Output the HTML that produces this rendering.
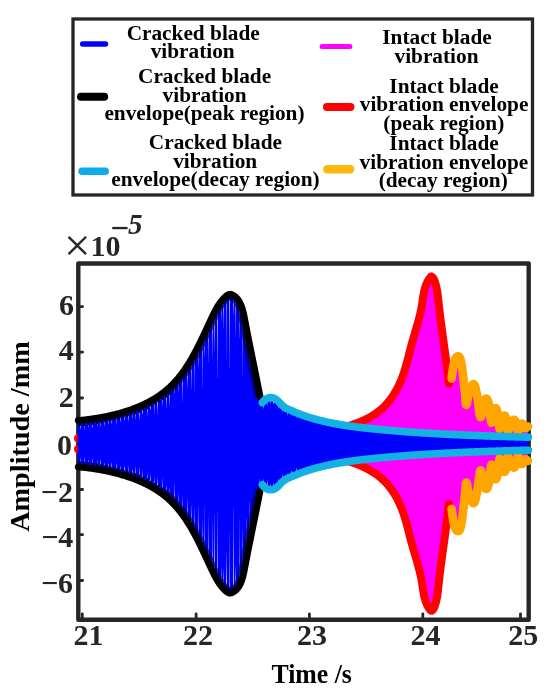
<!DOCTYPE html>
<html><head><meta charset="utf-8"><title>Blade vibration</title>
<style>html,body{margin:0;padding:0;background:#fff;}svg{display:block;}</style></head>
<body>
<svg width="550" height="696" viewBox="0 0 550 696">
<rect width="550" height="696" fill="#fff"/>
<g fill="#000" font-family="'Liberation Serif','Times New Roman',serif" font-weight="bold">
<rect x="73" y="19" width="459.5" height="176" fill="#fff" stroke="#262626" stroke-width="3.3"/>
<line x1="82.7" y1="44" x2="105.5" y2="44" stroke="#0000FF" stroke-width="5.5" stroke-linecap="round"/>
<line x1="81" y1="96.85" x2="104.2" y2="96.85" stroke="#000" stroke-width="8" stroke-linecap="round"/>
<line x1="82.1" y1="171.3" x2="105.2" y2="171.3" stroke="#0DAAEC" stroke-width="7.6" stroke-linecap="round"/>
<line x1="322.1" y1="46.5" x2="349.9" y2="46.5" stroke="#FF00FF" stroke-width="5" stroke-linecap="round"/>
<line x1="327" y1="107" x2="350.4" y2="107" stroke="#FF0000" stroke-width="8" stroke-linecap="round"/>
<line x1="327.2" y1="169.2" x2="350.2" y2="169.2" stroke="#FDB80F" stroke-width="8.4" stroke-linecap="round"/>
<rect x="78.3" y="263.5" width="450.4" height="356.3" fill="none" stroke="#262626" stroke-width="4.4" stroke-linejoin="round"/>
<line x1="82.3" y1="619" x2="82.3" y2="614" stroke="#262626" stroke-width="2.8" stroke-linecap="round"/>
<line x1="196.1" y1="619" x2="196.1" y2="614" stroke="#262626" stroke-width="2.8" stroke-linecap="round"/>
<line x1="309.4" y1="619" x2="309.4" y2="614" stroke="#262626" stroke-width="2.8" stroke-linecap="round"/>
<line x1="422.8" y1="619" x2="422.8" y2="614" stroke="#262626" stroke-width="2.8" stroke-linecap="round"/>
<line x1="520.5" y1="619" x2="520.5" y2="614" stroke="#262626" stroke-width="2.8" stroke-linecap="round"/>
<line x1="79" y1="306.6" x2="82.6" y2="306.6" stroke="#262626" stroke-width="2.8" stroke-linecap="round"/>
<line x1="79" y1="352.1" x2="82.6" y2="352.1" stroke="#262626" stroke-width="2.8" stroke-linecap="round"/>
<line x1="79" y1="398" x2="82.6" y2="398" stroke="#262626" stroke-width="2.8" stroke-linecap="round"/>
<line x1="79" y1="443.5" x2="82.6" y2="443.5" stroke="#262626" stroke-width="2.8" stroke-linecap="round"/>
<line x1="79" y1="489.5" x2="82.6" y2="489.5" stroke="#262626" stroke-width="2.8" stroke-linecap="round"/>
<line x1="79" y1="534.7" x2="82.6" y2="534.7" stroke="#262626" stroke-width="2.8" stroke-linecap="round"/>
<line x1="79" y1="580.5" x2="82.6" y2="580.5" stroke="#262626" stroke-width="2.8" stroke-linecap="round"/>
<path d="M78.00,438.50 L150.00,437.20 L250.00,433.50 L310.00,430.50 L335.00,428.50 L348.46,426.06 L349.18,425.84 L349.91,425.61 L350.64,425.37 L351.37,425.13 L352.10,424.89 L352.84,424.64 L353.57,424.39 L354.30,424.13 L355.03,423.87 L355.75,423.60 L356.48,423.33 L357.21,423.06 L357.94,422.78 L358.66,422.49 L359.38,422.20 L360.11,421.90 L360.83,421.60 L361.54,421.29 L362.26,420.98 L362.97,420.66 L363.69,420.34 L364.40,420.01 L365.10,419.67 L365.81,419.33 L366.51,418.98 L367.21,418.62 L367.91,418.26 L368.60,417.89 L369.29,417.52 L369.98,417.13 L370.66,416.75 L371.34,416.35 L372.01,415.95 L372.68,415.54 L373.35,415.12 L374.01,414.69 L374.67,414.26 L375.33,413.82 L375.97,413.37 L376.62,412.92 L377.26,412.46 L377.89,411.98 L378.52,411.50 L379.14,411.02 L379.76,410.52 L380.37,410.02 L380.98,409.50 L381.58,408.98 L382.17,408.45 L382.75,407.91 L383.33,407.37 L383.90,406.81 L384.46,406.25 L385.02,405.69 L385.57,405.11 L386.11,404.53 L386.64,403.95 L387.17,403.35 L387.69,402.75 L388.20,402.15 L388.70,401.54 L389.20,400.92 L389.69,400.30 L390.18,399.67 L390.65,399.03 L391.12,398.40 L391.59,397.75 L392.04,397.10 L392.49,396.45 L392.93,395.79 L393.37,395.13 L393.80,394.46 L394.22,393.79 L394.64,393.12 L395.05,392.44 L395.45,391.76 L395.85,391.07 L396.24,390.38 L396.62,389.69 L397.00,389.00 L397.37,388.30 L397.73,387.60 L398.09,386.90 L398.44,386.19 L398.79,385.48 L399.13,384.77 L399.46,384.06 L399.79,383.34 L400.11,382.62 L400.42,381.91 L400.73,381.19 L401.03,380.46 L401.33,379.74 L401.62,379.02 L401.90,378.29 L402.18,377.57 L402.46,376.84 L402.72,376.11 L402.98,375.39 L403.24,374.66 L403.49,373.93 L403.74,373.20 L403.98,372.48 L404.22,371.75 L404.46,371.02 L404.69,370.29 L404.91,369.56 L405.13,368.83 L405.35,368.10 L405.57,367.37 L405.78,366.64 L405.99,365.91 L406.19,365.19 L406.40,364.46 L406.60,363.73 L406.80,363.00 L406.99,362.27 L407.19,361.55 L407.38,360.82 L407.57,360.09 L407.76,359.36 L407.95,358.64 L408.13,357.91 L408.32,357.19 L408.50,356.46 L408.68,355.74 L408.87,355.02 L409.05,354.30 L409.23,353.57 L409.42,352.85 L409.60,352.13 L409.78,351.41 L409.96,350.70 L410.15,349.98 L410.33,349.26 L410.52,348.55 L410.70,347.83 L410.89,347.12 L411.08,346.41 L411.27,345.70 L411.46,344.99 L411.66,344.28 L411.85,343.57 L412.05,342.86 L412.25,342.15 L412.45,341.44 L412.66,340.73 L412.86,340.02 L413.07,339.30 L413.28,338.59 L413.48,337.88 L413.69,337.17 L413.91,336.45 L414.12,335.74 L414.33,335.02 L414.54,334.31 L414.76,333.59 L414.97,332.87 L415.19,332.15 L415.40,331.44 L415.61,330.72 L415.83,330.00 L416.04,329.27 L416.25,328.55 L416.47,327.83 L416.68,327.11 L416.89,326.38 L417.10,325.66 L417.31,324.93 L417.52,324.20 L417.72,323.47 L417.93,322.74 L418.13,322.01 L418.33,321.28 L418.53,320.55 L418.72,319.81 L418.92,319.08 L419.11,318.34 L419.30,317.60 L419.49,316.86 L419.67,316.12 L419.85,315.38 L420.03,314.64 L420.21,313.89 L420.38,313.14 L420.55,312.40 L420.71,311.65 L420.87,310.90 L421.03,310.14 L421.18,309.39 L421.33,308.64 L421.47,307.88 L421.61,307.12 L421.75,306.36 L421.88,305.60 L422.00,304.84 L422.12,304.08 L422.24,303.33 L422.35,302.58 L422.46,301.83 L422.57,301.08 L422.68,300.34 L422.78,299.60 L422.89,298.87 L423.00,298.14 L423.11,297.41 L423.22,296.69 L423.34,295.97 L423.46,295.25 L423.58,294.54 L423.70,293.83 L423.84,293.13 L423.97,292.43 L424.12,291.73 L424.27,291.04 L424.43,290.36 L424.60,289.67 L424.77,289.00 L424.96,288.32 L425.15,287.66 L425.36,286.99 L425.57,286.33 L425.80,285.68 L426.04,285.03 L426.29,284.38 L426.56,283.74 L426.84,283.10 L427.13,282.46 L427.44,281.83 L427.76,281.21 L428.09,280.60 L428.44,280.01 L428.79,279.44 L429.14,278.92 L429.49,278.43 L429.84,277.99 L430.18,277.60 L430.50,277.28 L430.79,277.01 L431.04,276.82 L431.24,276.69 L431.39,276.62 L431.46,276.59 L431.47,276.58 L431.43,276.59 L431.42,276.59 L431.47,276.60 L431.59,276.64 L431.77,276.73 L432.00,276.88 L432.26,277.08 L432.54,277.33 L432.82,277.63 L433.10,277.98 L433.38,278.38 L433.65,278.83 L433.92,279.34 L434.18,279.91 L434.44,280.52 L434.68,281.16 L434.92,281.84 L435.15,282.55 L435.37,283.27 L435.58,283.99 L435.78,284.71 L435.97,285.43 L436.15,286.15 L436.32,286.87 L436.48,287.59 L436.63,288.30 L436.77,289.01 L436.91,289.73 L437.04,290.44 L437.16,291.15 L437.28,291.86 L437.39,292.58 L437.49,293.29 L437.59,294.00 L437.69,294.72 L437.78,295.43 L437.87,296.15 L437.95,296.87 L438.04,297.59 L438.12,298.31 L438.19,299.04 L438.27,299.76 L438.35,300.49 L438.42,301.22 L438.50,301.96 L438.58,302.69 L438.66,303.43 L438.74,304.17 L438.82,304.91 L438.90,305.64 L438.98,306.38 L439.06,307.12 L439.15,307.86 L439.23,308.60 L439.32,309.34 L439.40,310.08 L439.49,310.82 L439.58,311.56 L439.67,312.30 L439.76,313.04 L439.85,313.78 L439.94,314.52 L440.03,315.27 L440.12,316.01 L440.21,316.75 L440.30,317.49 L440.40,318.23 L440.49,318.97 L440.59,319.72 L440.68,320.46 L440.78,321.20 L440.87,321.94 L440.97,322.69 L441.07,323.43 L441.16,324.17 L441.26,324.92 L441.36,325.66 L441.46,326.40 L441.56,327.14 L441.66,327.89 L441.76,328.63 L441.86,329.38 L441.96,330.12 L442.06,330.86 L442.16,331.61 L442.26,332.35 L442.36,333.09 L442.46,333.84 L442.56,334.58 L442.67,335.32 L442.77,336.07 L442.87,336.81 L442.97,337.56 L443.07,338.30 L443.18,339.04 L443.28,339.79 L443.38,340.53 L443.49,341.27 L443.59,342.02 L443.69,342.76 L443.79,343.51 L443.90,344.25 L444.00,344.99 L444.10,345.74 L444.21,346.48 L444.31,347.22 L444.41,347.96 L444.51,348.71 L444.62,349.45 L444.72,350.19 L444.82,350.94 L444.92,351.68 L445.02,352.42 L445.12,353.16 L445.23,353.91 L445.33,354.65 L445.43,355.39 L445.53,356.13 L445.63,356.87 L445.73,357.61 L445.83,358.36 L445.92,359.10 L446.02,359.84 L446.12,360.58 L446.22,361.32 L446.32,362.06 L446.41,362.80 L446.51,363.54 L446.61,364.28 L446.70,365.02 L446.80,365.76 L446.89,366.50 L446.99,367.23 L447.08,367.97 L447.17,368.71 L447.26,369.45 L447.36,370.19 L447.45,370.92 L447.54,371.66 L447.63,372.40 L447.72,373.13 L447.80,373.87 L447.89,374.60 L447.98,375.34 L448.06,376.08 L448.15,376.81 L448.23,377.54 L448.32,378.28 L448.40,379.01 L448.48,379.75 L448.56,380.48 L448.64,381.21 L448.72,381.94 L448.80,382.68 L448.88,383.41 L451.60,378.50 L451.72,377.57 L451.84,376.64 L451.96,375.71 L452.08,374.78 L452.20,373.85 L452.32,372.91 L452.46,371.96 L452.60,371.00 L452.75,370.00 L452.91,368.96 L453.08,367.90 L453.25,366.84 L453.43,365.80 L453.61,364.80 L453.80,363.86 L454.00,363.00 L454.20,362.21 L454.42,361.46 L454.64,360.76 L454.86,360.11 L455.09,359.50 L455.33,358.95 L455.56,358.45 L455.80,358.00 L456.04,357.61 L456.29,357.28 L456.54,356.99 L456.79,356.76 L457.04,356.58 L457.30,356.44 L457.55,356.35 L457.80,356.30 L458.05,356.28 L458.31,356.30 L458.57,356.35 L458.83,356.45 L459.09,356.61 L459.34,356.83 L459.57,357.12 L459.80,357.50 L460.01,357.96 L460.21,358.49 L460.41,359.09 L460.59,359.76 L460.77,360.49 L460.95,361.28 L461.13,362.12 L461.30,363.00 L461.47,363.94 L461.64,364.93 L461.80,365.99 L461.96,367.09 L462.11,368.25 L462.27,369.46 L462.43,370.71 L462.60,372.00 L462.77,373.36 L462.95,374.79 L463.12,376.28 L463.30,377.81 L463.48,379.37 L463.65,380.93 L463.83,382.48 L464.00,384.00 L464.17,385.52 L464.34,387.07 L464.50,388.64 L464.67,390.19 L464.83,391.73 L464.99,393.22 L465.15,394.65 L465.30,396.00 L465.43,397.41 L465.54,398.97 L465.64,400.54 L465.74,402.04 L465.86,403.33 L466.00,404.32 L466.17,404.88 L466.40,404.90 L466.68,404.25 L466.99,402.98 L467.33,401.24 L467.70,399.22 L468.10,397.07 L468.51,394.95 L468.95,393.04 L469.40,391.50 L469.88,390.17 L470.41,388.82 L470.97,387.53 L471.54,386.35 L472.12,385.35 L472.68,384.60 L473.21,384.16 L473.70,384.10 L474.14,384.41 L474.55,385.03 L474.92,385.93 L475.29,387.09 L475.65,388.49 L476.01,390.10 L476.39,391.92 L476.80,393.90 L477.24,396.42 L477.70,399.64 L478.17,403.28 L478.66,407.02 L479.14,410.58 L479.61,413.64 L480.07,415.92 L480.50,417.10 L480.91,417.01 L481.30,415.86 L481.68,413.92 L482.04,411.49 L482.41,408.85 L482.77,406.28 L483.13,404.07 L483.50,402.50 L483.88,401.43 L484.26,400.53 L484.65,399.81 L485.03,399.24 L485.41,398.85 L485.79,398.61 L486.15,398.53 L486.50,398.60 L486.84,398.82 L487.16,399.19 L487.48,399.71 L487.79,400.39 L488.09,401.25 L488.39,402.28 L488.70,403.49 L489.00,404.90 L489.31,406.77 L489.61,409.21 L489.92,411.99 L490.23,414.86 L490.53,417.61 L490.82,419.98 L491.12,421.76 L491.40,422.70 L491.67,422.68 L491.94,421.87 L492.20,420.47 L492.45,418.70 L492.70,416.76 L492.96,414.86 L493.23,413.20 L493.50,412.00 L493.79,411.12 L494.09,410.32 L494.39,409.60 L494.70,409.01 L495.01,408.55 L495.31,408.24 L495.61,408.12 L495.90,408.20 L496.18,408.49 L496.46,408.99 L496.73,409.66 L497.00,410.49 L497.26,411.46 L497.52,412.55 L497.76,413.73 L498.00,415.00 L498.22,416.57 L498.42,418.56 L498.60,420.78 L498.78,423.05 L498.96,425.19 L499.16,427.02 L499.37,428.35 L499.60,429.00 L499.86,428.85 L500.14,428.04 L500.44,426.72 L500.74,425.09 L501.06,423.33 L501.37,421.61 L501.69,420.10 L502.00,419.00 L502.31,418.20 L502.63,417.48 L502.95,416.86 L503.27,416.34 L503.59,415.94 L503.91,415.66 L504.21,415.51 L504.50,415.50 L504.78,415.64 L505.05,415.91 L505.31,416.32 L505.56,416.84 L505.81,417.48 L506.05,418.23 L506.28,419.07 L506.50,420.00 L506.70,421.19 L506.89,422.74 L507.06,424.48 L507.22,426.28 L507.39,427.98 L507.57,429.43 L507.77,430.49 L508.00,431.00 L508.26,430.88 L508.53,430.22 L508.82,429.18 L509.12,427.89 L509.44,426.48 L509.77,425.11 L510.13,423.90 L510.50,423.00 L510.91,422.32 L511.35,421.69 L511.82,421.12 L512.31,420.64 L512.79,420.25 L513.26,419.97 L513.70,419.81 L514.10,419.80 L514.46,419.95 L514.81,420.25 L515.13,420.69 L515.43,421.23 L515.72,421.86 L515.99,422.54 L516.25,423.27 L516.50,424.00 L516.73,424.87 L516.93,425.95 L517.11,427.14 L517.27,428.36 L517.44,429.49 L517.61,430.46 L517.79,431.16 L518.00,431.50 L518.22,431.41 L518.46,430.97 L518.70,430.26 L518.95,429.38 L519.21,428.41 L519.47,427.47 L519.73,426.63 L520.00,426.00 L520.27,425.50 L520.54,425.00 L520.82,424.54 L521.11,424.12 L521.40,423.79 L521.69,423.56 L521.99,423.46 L522.30,423.50 L522.62,423.77 L522.94,424.27 L523.27,424.94 L523.61,425.69 L523.95,426.44 L524.29,427.13 L524.65,427.68 L525.00,428.00 L525.36,428.10 L525.73,428.05 L526.10,427.88 L526.48,427.62 L526.86,427.33 L527.24,427.02 L527.62,426.73 L528.00,426.50 L528.00,460.90 L527.62,460.67 L527.24,460.38 L526.86,460.07 L526.48,459.77 L526.10,459.52 L525.73,459.35 L525.36,459.30 L525.00,459.40 L524.65,459.72 L524.29,460.27 L523.95,460.96 L523.61,461.71 L523.27,462.46 L522.94,463.13 L522.62,463.63 L522.30,463.90 L521.99,463.94 L521.69,463.84 L521.40,463.61 L521.11,463.27 L520.82,462.86 L520.54,462.40 L520.27,461.90 L520.00,461.40 L519.73,460.77 L519.47,459.93 L519.21,458.99 L518.95,458.02 L518.70,457.14 L518.46,456.43 L518.22,455.99 L518.00,455.90 L517.79,456.24 L517.61,456.94 L517.44,457.91 L517.27,459.04 L517.11,460.26 L516.93,461.45 L516.73,462.53 L516.50,463.40 L516.25,464.13 L515.99,464.86 L515.72,465.54 L515.43,466.17 L515.13,466.71 L514.81,467.15 L514.46,467.45 L514.10,467.60 L513.70,467.59 L513.26,467.43 L512.79,467.15 L512.31,466.76 L511.82,466.28 L511.35,465.71 L510.91,465.08 L510.50,464.40 L510.13,463.50 L509.77,462.29 L509.44,460.92 L509.12,459.51 L508.82,458.22 L508.53,457.18 L508.26,456.52 L508.00,456.40 L507.77,456.91 L507.57,457.97 L507.39,459.42 L507.22,461.12 L507.06,462.92 L506.89,464.66 L506.70,466.21 L506.50,467.40 L506.28,468.33 L506.05,469.17 L505.81,469.92 L505.56,470.56 L505.31,471.08 L505.05,471.49 L504.78,471.76 L504.50,471.90 L504.21,471.89 L503.91,471.74 L503.59,471.46 L503.27,471.06 L502.95,470.54 L502.63,469.92 L502.31,469.20 L502.00,468.40 L501.69,467.30 L501.37,465.79 L501.06,464.07 L500.74,462.31 L500.44,460.68 L500.14,459.36 L499.86,458.55 L499.60,458.40 L499.37,459.05 L499.16,460.38 L498.96,462.21 L498.78,464.35 L498.60,466.62 L498.42,468.84 L498.22,470.83 L498.00,472.40 L497.76,473.67 L497.52,474.85 L497.26,475.94 L497.00,476.91 L496.73,477.74 L496.46,478.41 L496.18,478.91 L495.90,479.20 L495.61,479.28 L495.31,479.16 L495.01,478.85 L494.70,478.39 L494.39,477.80 L494.09,477.08 L493.79,476.28 L493.50,475.40 L493.23,474.20 L492.96,472.54 L492.70,470.64 L492.45,468.70 L492.20,466.93 L491.94,465.53 L491.67,464.72 L491.40,464.70 L491.12,465.64 L490.82,467.42 L490.53,469.79 L490.23,472.54 L489.92,475.41 L489.61,478.19 L489.31,480.63 L489.00,482.50 L488.70,483.91 L488.39,485.12 L488.09,486.15 L487.79,487.01 L487.48,487.69 L487.16,488.21 L486.84,488.58 L486.50,488.80 L486.15,488.87 L485.79,488.79 L485.41,488.55 L485.03,488.16 L484.65,487.59 L484.26,486.87 L483.88,485.97 L483.50,484.90 L483.13,483.33 L482.77,481.12 L482.41,478.55 L482.04,475.91 L481.68,473.48 L481.30,471.54 L480.91,470.39 L480.50,470.30 L480.07,471.48 L479.61,473.76 L479.14,476.82 L478.66,480.38 L478.17,484.12 L477.70,487.76 L477.24,490.98 L476.80,493.50 L476.39,495.48 L476.01,497.30 L475.65,498.91 L475.29,500.31 L474.92,501.47 L474.55,502.37 L474.14,502.99 L473.70,503.30 L473.21,503.24 L472.68,502.80 L472.12,502.05 L471.54,501.05 L470.97,499.87 L470.41,498.58 L469.88,497.23 L469.40,495.90 L468.95,494.36 L468.51,492.45 L468.10,490.33 L467.70,488.18 L467.33,486.16 L466.99,484.42 L466.68,483.15 L466.40,482.50 L466.17,482.52 L466.00,483.08 L465.86,484.07 L465.74,485.36 L465.64,486.86 L465.54,488.43 L465.43,489.99 L465.30,491.40 L465.15,492.75 L464.99,494.18 L464.83,495.67 L464.67,497.21 L464.50,498.76 L464.34,500.33 L464.17,501.88 L464.00,503.40 L463.83,504.92 L463.65,506.47 L463.48,508.03 L463.30,509.59 L463.12,511.12 L462.95,512.61 L462.77,514.04 L462.60,515.40 L462.43,516.69 L462.27,517.94 L462.11,519.15 L461.96,520.31 L461.80,521.41 L461.64,522.47 L461.47,523.46 L461.30,524.40 L461.13,525.28 L460.95,526.12 L460.77,526.91 L460.59,527.64 L460.41,528.31 L460.21,528.91 L460.01,529.44 L459.80,529.90 L459.57,530.28 L459.34,530.57 L459.09,530.79 L458.83,530.95 L458.57,531.05 L458.31,531.10 L458.05,531.12 L457.80,531.10 L457.55,531.05 L457.30,530.96 L457.04,530.82 L456.79,530.64 L456.54,530.41 L456.29,530.12 L456.04,529.79 L455.80,529.40 L455.56,528.95 L455.33,528.45 L455.09,527.90 L454.86,527.29 L454.64,526.64 L454.42,525.94 L454.20,525.19 L454.00,524.40 L453.80,523.54 L453.61,522.60 L453.43,521.60 L453.25,520.56 L453.08,519.50 L452.91,518.44 L452.75,517.40 L452.60,516.40 L452.46,515.44 L452.32,514.49 L452.20,513.55 L452.08,512.62 L451.96,511.69 L451.84,510.76 L451.72,509.83 L451.60,508.90 L448.88,503.99 L448.80,504.72 L448.72,505.46 L448.64,506.19 L448.56,506.92 L448.48,507.65 L448.40,508.39 L448.32,509.12 L448.23,509.86 L448.15,510.59 L448.06,511.32 L447.98,512.06 L447.89,512.80 L447.80,513.53 L447.72,514.27 L447.63,515.00 L447.54,515.74 L447.45,516.48 L447.36,517.21 L447.26,517.95 L447.17,518.69 L447.08,519.43 L446.99,520.17 L446.89,520.90 L446.80,521.64 L446.70,522.38 L446.61,523.12 L446.51,523.86 L446.41,524.60 L446.32,525.34 L446.22,526.08 L446.12,526.82 L446.02,527.56 L445.92,528.30 L445.83,529.04 L445.73,529.79 L445.63,530.53 L445.53,531.27 L445.43,532.01 L445.33,532.75 L445.23,533.49 L445.12,534.24 L445.02,534.98 L444.92,535.72 L444.82,536.46 L444.72,537.21 L444.62,537.95 L444.51,538.69 L444.41,539.44 L444.31,540.18 L444.21,540.92 L444.10,541.66 L444.00,542.41 L443.90,543.15 L443.79,543.89 L443.69,544.64 L443.59,545.38 L443.49,546.13 L443.38,546.87 L443.28,547.61 L443.18,548.36 L443.07,549.10 L442.97,549.84 L442.87,550.59 L442.77,551.33 L442.67,552.08 L442.56,552.82 L442.46,553.56 L442.36,554.31 L442.26,555.05 L442.16,555.79 L442.06,556.54 L441.96,557.28 L441.86,558.02 L441.76,558.77 L441.66,559.51 L441.56,560.26 L441.46,561.00 L441.36,561.74 L441.26,562.48 L441.16,563.23 L441.07,563.97 L440.97,564.71 L440.87,565.46 L440.78,566.20 L440.68,566.94 L440.59,567.68 L440.49,568.43 L440.40,569.17 L440.30,569.91 L440.21,570.65 L440.12,571.39 L440.03,572.13 L439.94,572.88 L439.85,573.62 L439.76,574.36 L439.67,575.10 L439.58,575.84 L439.49,576.58 L439.40,577.32 L439.32,578.06 L439.23,578.80 L439.15,579.54 L439.06,580.28 L438.98,581.02 L438.90,581.76 L438.82,582.49 L438.74,583.23 L438.66,583.97 L438.58,584.71 L438.50,585.44 L438.42,586.18 L438.35,586.91 L438.27,587.64 L438.19,588.36 L438.12,589.09 L438.04,589.81 L437.95,590.53 L437.87,591.25 L437.78,591.97 L437.69,592.68 L437.59,593.40 L437.49,594.11 L437.39,594.82 L437.28,595.54 L437.16,596.25 L437.04,596.96 L436.91,597.67 L436.77,598.39 L436.63,599.10 L436.48,599.81 L436.32,600.53 L436.15,601.25 L435.97,601.97 L435.78,602.69 L435.58,603.41 L435.37,604.13 L435.15,604.85 L434.92,605.56 L434.68,606.24 L434.44,606.88 L434.18,607.49 L433.92,608.06 L433.65,608.57 L433.38,609.02 L433.10,609.42 L432.82,609.77 L432.54,610.07 L432.26,610.32 L432.00,610.52 L431.77,610.67 L431.59,610.76 L431.47,610.80 L431.42,610.81 L431.43,610.81 L431.47,610.82 L431.46,610.81 L431.39,610.78 L431.24,610.71 L431.04,610.58 L430.79,610.39 L430.50,610.12 L430.18,609.80 L429.84,609.41 L429.49,608.97 L429.14,608.48 L428.79,607.96 L428.44,607.39 L428.09,606.80 L427.76,606.19 L427.44,605.57 L427.13,604.94 L426.84,604.30 L426.56,603.66 L426.29,603.02 L426.04,602.37 L425.80,601.72 L425.57,601.07 L425.36,600.41 L425.15,599.74 L424.96,599.08 L424.77,598.40 L424.60,597.73 L424.43,597.04 L424.27,596.36 L424.12,595.67 L423.97,594.97 L423.84,594.27 L423.70,593.57 L423.58,592.86 L423.46,592.15 L423.34,591.43 L423.22,590.71 L423.11,589.99 L423.00,589.26 L422.89,588.53 L422.78,587.80 L422.68,587.06 L422.57,586.32 L422.46,585.57 L422.35,584.82 L422.24,584.07 L422.12,583.32 L422.00,582.56 L421.88,581.80 L421.75,581.04 L421.61,580.28 L421.47,579.52 L421.33,578.76 L421.18,578.01 L421.03,577.26 L420.87,576.50 L420.71,575.75 L420.55,575.00 L420.38,574.26 L420.21,573.51 L420.03,572.76 L419.85,572.02 L419.67,571.28 L419.49,570.54 L419.30,569.80 L419.11,569.06 L418.92,568.32 L418.72,567.59 L418.53,566.85 L418.33,566.12 L418.13,565.39 L417.93,564.66 L417.72,563.93 L417.52,563.20 L417.31,562.47 L417.10,561.74 L416.89,561.02 L416.68,560.29 L416.47,559.57 L416.25,558.85 L416.04,558.13 L415.83,557.40 L415.61,556.68 L415.40,555.96 L415.19,555.25 L414.97,554.53 L414.76,553.81 L414.54,553.09 L414.33,552.38 L414.12,551.66 L413.91,550.95 L413.69,550.23 L413.48,549.52 L413.28,548.81 L413.07,548.10 L412.86,547.38 L412.66,546.67 L412.45,545.96 L412.25,545.25 L412.05,544.54 L411.85,543.83 L411.66,543.12 L411.46,542.41 L411.27,541.70 L411.08,540.99 L410.89,540.28 L410.70,539.57 L410.52,538.85 L410.33,538.14 L410.15,537.42 L409.96,536.70 L409.78,535.99 L409.60,535.27 L409.42,534.55 L409.23,533.83 L409.05,533.10 L408.87,532.38 L408.68,531.66 L408.50,530.94 L408.32,530.21 L408.13,529.49 L407.95,528.76 L407.76,528.04 L407.57,527.31 L407.38,526.58 L407.19,525.85 L406.99,525.13 L406.80,524.40 L406.60,523.67 L406.40,522.94 L406.19,522.21 L405.99,521.49 L405.78,520.76 L405.57,520.03 L405.35,519.30 L405.13,518.57 L404.91,517.84 L404.69,517.11 L404.46,516.38 L404.22,515.65 L403.98,514.92 L403.74,514.20 L403.49,513.47 L403.24,512.74 L402.98,512.01 L402.72,511.29 L402.46,510.56 L402.18,509.83 L401.90,509.11 L401.62,508.38 L401.33,507.66 L401.03,506.94 L400.73,506.21 L400.42,505.49 L400.11,504.78 L399.79,504.06 L399.46,503.34 L399.13,502.63 L398.79,501.92 L398.44,501.21 L398.09,500.50 L397.73,499.80 L397.37,499.10 L397.00,498.40 L396.62,497.71 L396.24,497.02 L395.85,496.33 L395.45,495.64 L395.05,494.96 L394.64,494.28 L394.22,493.61 L393.80,492.94 L393.37,492.27 L392.93,491.61 L392.49,490.95 L392.04,490.30 L391.59,489.65 L391.12,489.00 L390.65,488.37 L390.18,487.73 L389.69,487.10 L389.20,486.48 L388.70,485.86 L388.20,485.25 L387.69,484.65 L387.17,484.05 L386.64,483.45 L386.11,482.87 L385.57,482.29 L385.02,481.71 L384.46,481.15 L383.90,480.59 L383.33,480.03 L382.75,479.49 L382.17,478.95 L381.58,478.42 L380.98,477.90 L380.37,477.38 L379.76,476.88 L379.14,476.38 L378.52,475.90 L377.89,475.42 L377.26,474.94 L376.62,474.48 L375.97,474.03 L375.33,473.58 L374.67,473.14 L374.01,472.71 L373.35,472.28 L372.68,471.86 L372.01,471.45 L371.34,471.05 L370.66,470.65 L369.98,470.27 L369.29,469.88 L368.60,469.51 L367.91,469.14 L367.21,468.78 L366.51,468.42 L365.81,468.07 L365.10,467.73 L364.40,467.39 L363.69,467.06 L362.97,466.74 L362.26,466.42 L361.54,466.11 L360.83,465.80 L360.11,465.50 L359.38,465.20 L358.66,464.91 L357.94,464.62 L357.21,464.34 L356.48,464.07 L355.75,463.80 L355.03,463.53 L354.30,463.27 L353.57,463.01 L352.84,462.76 L352.10,462.51 L351.37,462.27 L350.64,462.03 L349.91,461.79 L349.18,461.56 L348.46,461.34 L335.00,458.90 L310.00,456.90 L250.00,453.90 L150.00,450.20 L78.00,448.90Z" fill="#FF00FF"/>
<path d="M78.00,438.50 L150.00,437.20 L250.00,433.50 L310.00,430.50 L335.00,428.50 L348.46,426.06 L349.18,425.84 L349.91,425.61 L350.64,425.37 L351.37,425.13 L352.10,424.89 L352.84,424.64 L353.57,424.39 L354.30,424.13 L355.03,423.87 L355.75,423.60 L356.48,423.33 L357.21,423.06 L357.94,422.78 L358.66,422.49 L359.38,422.20 L360.11,421.90 L360.83,421.60 L361.54,421.29 L362.26,420.98 L362.97,420.66 L363.69,420.34 L364.40,420.01 L365.10,419.67 L365.81,419.33 L366.51,418.98 L367.21,418.62 L367.91,418.26 L368.60,417.89 L369.29,417.52 L369.98,417.13 L370.66,416.75 L371.34,416.35 L372.01,415.95 L372.68,415.54 L373.35,415.12 L374.01,414.69 L374.67,414.26 L375.33,413.82 L375.97,413.37 L376.62,412.92 L377.26,412.46 L377.89,411.98 L378.52,411.50 L379.14,411.02 L379.76,410.52 L380.37,410.02 L380.98,409.50 L381.58,408.98 L382.17,408.45 L382.75,407.91 L383.33,407.37 L383.90,406.81 L384.46,406.25 L385.02,405.69 L385.57,405.11 L386.11,404.53 L386.64,403.95 L387.17,403.35 L387.69,402.75 L388.20,402.15 L388.70,401.54 L389.20,400.92 L389.69,400.30 L390.18,399.67 L390.65,399.03 L391.12,398.40 L391.59,397.75 L392.04,397.10 L392.49,396.45 L392.93,395.79 L393.37,395.13 L393.80,394.46 L394.22,393.79 L394.64,393.12 L395.05,392.44 L395.45,391.76 L395.85,391.07 L396.24,390.38 L396.62,389.69 L397.00,389.00 L397.37,388.30 L397.73,387.60 L398.09,386.90 L398.44,386.19 L398.79,385.48 L399.13,384.77 L399.46,384.06 L399.79,383.34 L400.11,382.62 L400.42,381.91 L400.73,381.19 L401.03,380.46 L401.33,379.74 L401.62,379.02 L401.90,378.29 L402.18,377.57 L402.46,376.84 L402.72,376.11 L402.98,375.39 L403.24,374.66 L403.49,373.93 L403.74,373.20 L403.98,372.48 L404.22,371.75 L404.46,371.02 L404.69,370.29 L404.91,369.56 L405.13,368.83 L405.35,368.10 L405.57,367.37 L405.78,366.64 L405.99,365.91 L406.19,365.19 L406.40,364.46 L406.60,363.73 L406.80,363.00 L406.99,362.27 L407.19,361.55 L407.38,360.82 L407.57,360.09 L407.76,359.36 L407.95,358.64 L408.13,357.91 L408.32,357.19 L408.50,356.46 L408.68,355.74 L408.87,355.02 L409.05,354.30 L409.23,353.57 L409.42,352.85 L409.60,352.13 L409.78,351.41 L409.96,350.70 L410.15,349.98 L410.33,349.26 L410.52,348.55 L410.70,347.83 L410.89,347.12 L411.08,346.41 L411.27,345.70 L411.46,344.99 L411.66,344.28 L411.85,343.57 L412.05,342.86 L412.25,342.15 L412.45,341.44 L412.66,340.73 L412.86,340.02 L413.07,339.30 L413.28,338.59 L413.48,337.88 L413.69,337.17 L413.91,336.45 L414.12,335.74 L414.33,335.02 L414.54,334.31 L414.76,333.59 L414.97,332.87 L415.19,332.15 L415.40,331.44 L415.61,330.72 L415.83,330.00 L416.04,329.27 L416.25,328.55 L416.47,327.83 L416.68,327.11 L416.89,326.38 L417.10,325.66 L417.31,324.93 L417.52,324.20 L417.72,323.47 L417.93,322.74 L418.13,322.01 L418.33,321.28 L418.53,320.55 L418.72,319.81 L418.92,319.08 L419.11,318.34 L419.30,317.60 L419.49,316.86 L419.67,316.12 L419.85,315.38 L420.03,314.64 L420.21,313.89 L420.38,313.14 L420.55,312.40 L420.71,311.65 L420.87,310.90 L421.03,310.14 L421.18,309.39 L421.33,308.64 L421.47,307.88 L421.61,307.12 L421.75,306.36 L421.88,305.60 L422.00,304.84 L422.12,304.08 L422.24,303.33 L422.35,302.58 L422.46,301.83 L422.57,301.08 L422.68,300.34 L422.78,299.60 L422.89,298.87 L423.00,298.14 L423.11,297.41 L423.22,296.69 L423.34,295.97 L423.46,295.25 L423.58,294.54 L423.70,293.83 L423.84,293.13 L423.97,292.43 L424.12,291.73 L424.27,291.04 L424.43,290.36 L424.60,289.67 L424.77,289.00 L424.96,288.32 L425.15,287.66 L425.36,286.99 L425.57,286.33 L425.80,285.68 L426.04,285.03 L426.29,284.38 L426.56,283.74 L426.84,283.10 L427.13,282.46 L427.44,281.83 L427.76,281.21 L428.09,280.60 L428.44,280.01 L428.79,279.44 L429.14,278.92 L429.49,278.43 L429.84,277.99 L430.18,277.60 L430.50,277.28 L430.79,277.01 L431.04,276.82 L431.24,276.69 L431.39,276.62 L431.46,276.59 L431.47,276.58 L431.43,276.59 L431.42,276.59 L431.47,276.60 L431.59,276.64 L431.77,276.73 L432.00,276.88 L432.26,277.08 L432.54,277.33 L432.82,277.63 L433.10,277.98 L433.38,278.38 L433.65,278.83 L433.92,279.34 L434.18,279.91 L434.44,280.52 L434.68,281.16 L434.92,281.84 L435.15,282.55 L435.37,283.27 L435.58,283.99 L435.78,284.71 L435.97,285.43 L436.15,286.15 L436.32,286.87 L436.48,287.59 L436.63,288.30 L436.77,289.01 L436.91,289.73 L437.04,290.44 L437.16,291.15 L437.28,291.86 L437.39,292.58 L437.49,293.29 L437.59,294.00 L437.69,294.72 L437.78,295.43 L437.87,296.15 L437.95,296.87 L438.04,297.59 L438.12,298.31 L438.19,299.04 L438.27,299.76 L438.35,300.49 L438.42,301.22 L438.50,301.96 L438.58,302.69 L438.66,303.43 L438.74,304.17 L438.82,304.91 L438.90,305.64 L438.98,306.38 L439.06,307.12 L439.15,307.86 L439.23,308.60 L439.32,309.34 L439.40,310.08 L439.49,310.82 L439.58,311.56 L439.67,312.30 L439.76,313.04 L439.85,313.78 L439.94,314.52 L440.03,315.27 L440.12,316.01 L440.21,316.75 L440.30,317.49 L440.40,318.23 L440.49,318.97 L440.59,319.72 L440.68,320.46 L440.78,321.20 L440.87,321.94 L440.97,322.69 L441.07,323.43 L441.16,324.17 L441.26,324.92 L441.36,325.66 L441.46,326.40 L441.56,327.14 L441.66,327.89 L441.76,328.63 L441.86,329.38 L441.96,330.12 L442.06,330.86 L442.16,331.61 L442.26,332.35 L442.36,333.09 L442.46,333.84 L442.56,334.58 L442.67,335.32 L442.77,336.07 L442.87,336.81 L442.97,337.56 L443.07,338.30 L443.18,339.04 L443.28,339.79 L443.38,340.53 L443.49,341.27 L443.59,342.02 L443.69,342.76 L443.79,343.51 L443.90,344.25 L444.00,344.99 L444.10,345.74 L444.21,346.48 L444.31,347.22 L444.41,347.96 L444.51,348.71 L444.62,349.45 L444.72,350.19 L444.82,350.94 L444.92,351.68 L445.02,352.42 L445.12,353.16 L445.23,353.91 L445.33,354.65 L445.43,355.39 L445.53,356.13 L445.63,356.87 L445.73,357.61 L445.83,358.36 L445.92,359.10 L446.02,359.84 L446.12,360.58 L446.22,361.32 L446.32,362.06 L446.41,362.80 L446.51,363.54 L446.61,364.28 L446.70,365.02 L446.80,365.76 L446.89,366.50 L446.99,367.23 L447.08,367.97 L447.17,368.71 L447.26,369.45 L447.36,370.19 L447.45,370.92 L447.54,371.66 L447.63,372.40 L447.72,373.13 L447.80,373.87 L447.89,374.60 L447.98,375.34 L448.06,376.08 L448.15,376.81 L448.23,377.54 L448.32,378.28 L448.40,379.01 L448.48,379.75 L448.56,380.48 L448.64,381.21 L448.72,381.94 L448.80,382.68 L448.88,383.41" fill="none" stroke="#FF0000" stroke-width="8" stroke-linecap="round" stroke-linejoin="round"/>
<path d="M78.00,448.90 L150.00,450.20 L250.00,453.90 L310.00,456.90 L335.00,458.90 L348.46,461.34 L349.18,461.56 L349.91,461.79 L350.64,462.03 L351.37,462.27 L352.10,462.51 L352.84,462.76 L353.57,463.01 L354.30,463.27 L355.03,463.53 L355.75,463.80 L356.48,464.07 L357.21,464.34 L357.94,464.62 L358.66,464.91 L359.38,465.20 L360.11,465.50 L360.83,465.80 L361.54,466.11 L362.26,466.42 L362.97,466.74 L363.69,467.06 L364.40,467.39 L365.10,467.73 L365.81,468.07 L366.51,468.42 L367.21,468.78 L367.91,469.14 L368.60,469.51 L369.29,469.88 L369.98,470.27 L370.66,470.65 L371.34,471.05 L372.01,471.45 L372.68,471.86 L373.35,472.28 L374.01,472.71 L374.67,473.14 L375.33,473.58 L375.97,474.03 L376.62,474.48 L377.26,474.94 L377.89,475.42 L378.52,475.90 L379.14,476.38 L379.76,476.88 L380.37,477.38 L380.98,477.90 L381.58,478.42 L382.17,478.95 L382.75,479.49 L383.33,480.03 L383.90,480.59 L384.46,481.15 L385.02,481.71 L385.57,482.29 L386.11,482.87 L386.64,483.45 L387.17,484.05 L387.69,484.65 L388.20,485.25 L388.70,485.86 L389.20,486.48 L389.69,487.10 L390.18,487.73 L390.65,488.37 L391.12,489.00 L391.59,489.65 L392.04,490.30 L392.49,490.95 L392.93,491.61 L393.37,492.27 L393.80,492.94 L394.22,493.61 L394.64,494.28 L395.05,494.96 L395.45,495.64 L395.85,496.33 L396.24,497.02 L396.62,497.71 L397.00,498.40 L397.37,499.10 L397.73,499.80 L398.09,500.50 L398.44,501.21 L398.79,501.92 L399.13,502.63 L399.46,503.34 L399.79,504.06 L400.11,504.78 L400.42,505.49 L400.73,506.21 L401.03,506.94 L401.33,507.66 L401.62,508.38 L401.90,509.11 L402.18,509.83 L402.46,510.56 L402.72,511.29 L402.98,512.01 L403.24,512.74 L403.49,513.47 L403.74,514.20 L403.98,514.92 L404.22,515.65 L404.46,516.38 L404.69,517.11 L404.91,517.84 L405.13,518.57 L405.35,519.30 L405.57,520.03 L405.78,520.76 L405.99,521.49 L406.19,522.21 L406.40,522.94 L406.60,523.67 L406.80,524.40 L406.99,525.13 L407.19,525.85 L407.38,526.58 L407.57,527.31 L407.76,528.04 L407.95,528.76 L408.13,529.49 L408.32,530.21 L408.50,530.94 L408.68,531.66 L408.87,532.38 L409.05,533.10 L409.23,533.83 L409.42,534.55 L409.60,535.27 L409.78,535.99 L409.96,536.70 L410.15,537.42 L410.33,538.14 L410.52,538.85 L410.70,539.57 L410.89,540.28 L411.08,540.99 L411.27,541.70 L411.46,542.41 L411.66,543.12 L411.85,543.83 L412.05,544.54 L412.25,545.25 L412.45,545.96 L412.66,546.67 L412.86,547.38 L413.07,548.10 L413.28,548.81 L413.48,549.52 L413.69,550.23 L413.91,550.95 L414.12,551.66 L414.33,552.38 L414.54,553.09 L414.76,553.81 L414.97,554.53 L415.19,555.25 L415.40,555.96 L415.61,556.68 L415.83,557.40 L416.04,558.13 L416.25,558.85 L416.47,559.57 L416.68,560.29 L416.89,561.02 L417.10,561.74 L417.31,562.47 L417.52,563.20 L417.72,563.93 L417.93,564.66 L418.13,565.39 L418.33,566.12 L418.53,566.85 L418.72,567.59 L418.92,568.32 L419.11,569.06 L419.30,569.80 L419.49,570.54 L419.67,571.28 L419.85,572.02 L420.03,572.76 L420.21,573.51 L420.38,574.26 L420.55,575.00 L420.71,575.75 L420.87,576.50 L421.03,577.26 L421.18,578.01 L421.33,578.76 L421.47,579.52 L421.61,580.28 L421.75,581.04 L421.88,581.80 L422.00,582.56 L422.12,583.32 L422.24,584.07 L422.35,584.82 L422.46,585.57 L422.57,586.32 L422.68,587.06 L422.78,587.80 L422.89,588.53 L423.00,589.26 L423.11,589.99 L423.22,590.71 L423.34,591.43 L423.46,592.15 L423.58,592.86 L423.70,593.57 L423.84,594.27 L423.97,594.97 L424.12,595.67 L424.27,596.36 L424.43,597.04 L424.60,597.73 L424.77,598.40 L424.96,599.08 L425.15,599.74 L425.36,600.41 L425.57,601.07 L425.80,601.72 L426.04,602.37 L426.29,603.02 L426.56,603.66 L426.84,604.30 L427.13,604.94 L427.44,605.57 L427.76,606.19 L428.09,606.80 L428.44,607.39 L428.79,607.96 L429.14,608.48 L429.49,608.97 L429.84,609.41 L430.18,609.80 L430.50,610.12 L430.79,610.39 L431.04,610.58 L431.24,610.71 L431.39,610.78 L431.46,610.81 L431.47,610.82 L431.43,610.81 L431.42,610.81 L431.47,610.80 L431.59,610.76 L431.77,610.67 L432.00,610.52 L432.26,610.32 L432.54,610.07 L432.82,609.77 L433.10,609.42 L433.38,609.02 L433.65,608.57 L433.92,608.06 L434.18,607.49 L434.44,606.88 L434.68,606.24 L434.92,605.56 L435.15,604.85 L435.37,604.13 L435.58,603.41 L435.78,602.69 L435.97,601.97 L436.15,601.25 L436.32,600.53 L436.48,599.81 L436.63,599.10 L436.77,598.39 L436.91,597.67 L437.04,596.96 L437.16,596.25 L437.28,595.54 L437.39,594.82 L437.49,594.11 L437.59,593.40 L437.69,592.68 L437.78,591.97 L437.87,591.25 L437.95,590.53 L438.04,589.81 L438.12,589.09 L438.19,588.36 L438.27,587.64 L438.35,586.91 L438.42,586.18 L438.50,585.44 L438.58,584.71 L438.66,583.97 L438.74,583.23 L438.82,582.49 L438.90,581.76 L438.98,581.02 L439.06,580.28 L439.15,579.54 L439.23,578.80 L439.32,578.06 L439.40,577.32 L439.49,576.58 L439.58,575.84 L439.67,575.10 L439.76,574.36 L439.85,573.62 L439.94,572.88 L440.03,572.13 L440.12,571.39 L440.21,570.65 L440.30,569.91 L440.40,569.17 L440.49,568.43 L440.59,567.68 L440.68,566.94 L440.78,566.20 L440.87,565.46 L440.97,564.71 L441.07,563.97 L441.16,563.23 L441.26,562.48 L441.36,561.74 L441.46,561.00 L441.56,560.26 L441.66,559.51 L441.76,558.77 L441.86,558.02 L441.96,557.28 L442.06,556.54 L442.16,555.79 L442.26,555.05 L442.36,554.31 L442.46,553.56 L442.56,552.82 L442.67,552.08 L442.77,551.33 L442.87,550.59 L442.97,549.84 L443.07,549.10 L443.18,548.36 L443.28,547.61 L443.38,546.87 L443.49,546.13 L443.59,545.38 L443.69,544.64 L443.79,543.89 L443.90,543.15 L444.00,542.41 L444.10,541.66 L444.21,540.92 L444.31,540.18 L444.41,539.44 L444.51,538.69 L444.62,537.95 L444.72,537.21 L444.82,536.46 L444.92,535.72 L445.02,534.98 L445.12,534.24 L445.23,533.49 L445.33,532.75 L445.43,532.01 L445.53,531.27 L445.63,530.53 L445.73,529.79 L445.83,529.04 L445.92,528.30 L446.02,527.56 L446.12,526.82 L446.22,526.08 L446.32,525.34 L446.41,524.60 L446.51,523.86 L446.61,523.12 L446.70,522.38 L446.80,521.64 L446.89,520.90 L446.99,520.17 L447.08,519.43 L447.17,518.69 L447.26,517.95 L447.36,517.21 L447.45,516.48 L447.54,515.74 L447.63,515.00 L447.72,514.27 L447.80,513.53 L447.89,512.80 L447.98,512.06 L448.06,511.32 L448.15,510.59 L448.23,509.86 L448.32,509.12 L448.40,508.39 L448.48,507.65 L448.56,506.92 L448.64,506.19 L448.72,505.46 L448.80,504.72 L448.88,503.99" fill="none" stroke="#FF0000" stroke-width="8" stroke-linecap="round" stroke-linejoin="round"/>
<path d="M451.60,378.50 L451.72,377.57 L451.84,376.64 L451.96,375.71 L452.08,374.78 L452.20,373.85 L452.32,372.91 L452.46,371.96 L452.60,371.00 L452.75,370.00 L452.91,368.96 L453.08,367.90 L453.25,366.84 L453.43,365.80 L453.61,364.80 L453.80,363.86 L454.00,363.00 L454.20,362.21 L454.42,361.46 L454.64,360.76 L454.86,360.11 L455.09,359.50 L455.33,358.95 L455.56,358.45 L455.80,358.00 L456.04,357.61 L456.29,357.28 L456.54,356.99 L456.79,356.76 L457.04,356.58 L457.30,356.44 L457.55,356.35 L457.80,356.30 L458.05,356.28 L458.31,356.30 L458.57,356.35 L458.83,356.45 L459.09,356.61 L459.34,356.83 L459.57,357.12 L459.80,357.50 L460.01,357.96 L460.21,358.49 L460.41,359.09 L460.59,359.76 L460.77,360.49 L460.95,361.28 L461.13,362.12 L461.30,363.00 L461.47,363.94 L461.64,364.93 L461.80,365.99 L461.96,367.09 L462.11,368.25 L462.27,369.46 L462.43,370.71 L462.60,372.00 L462.77,373.36 L462.95,374.79 L463.12,376.28 L463.30,377.81 L463.48,379.37 L463.65,380.93 L463.83,382.48 L464.00,384.00 L464.17,385.52 L464.34,387.07 L464.50,388.64 L464.67,390.19 L464.83,391.73 L464.99,393.22 L465.15,394.65 L465.30,396.00 L465.43,397.41 L465.54,398.97 L465.64,400.54 L465.74,402.04 L465.86,403.33 L466.00,404.32 L466.17,404.88 L466.40,404.90 L466.68,404.25 L466.99,402.98 L467.33,401.24 L467.70,399.22 L468.10,397.07 L468.51,394.95 L468.95,393.04 L469.40,391.50 L469.88,390.17 L470.41,388.82 L470.97,387.53 L471.54,386.35 L472.12,385.35 L472.68,384.60 L473.21,384.16 L473.70,384.10 L474.14,384.41 L474.55,385.03 L474.92,385.93 L475.29,387.09 L475.65,388.49 L476.01,390.10 L476.39,391.92 L476.80,393.90 L477.24,396.42 L477.70,399.64 L478.17,403.28 L478.66,407.02 L479.14,410.58 L479.61,413.64 L480.07,415.92 L480.50,417.10 L480.91,417.01 L481.30,415.86 L481.68,413.92 L482.04,411.49 L482.41,408.85 L482.77,406.28 L483.13,404.07 L483.50,402.50 L483.88,401.43 L484.26,400.53 L484.65,399.81 L485.03,399.24 L485.41,398.85 L485.79,398.61 L486.15,398.53 L486.50,398.60 L486.84,398.82 L487.16,399.19 L487.48,399.71 L487.79,400.39 L488.09,401.25 L488.39,402.28 L488.70,403.49 L489.00,404.90 L489.31,406.77 L489.61,409.21 L489.92,411.99 L490.23,414.86 L490.53,417.61 L490.82,419.98 L491.12,421.76 L491.40,422.70 L491.67,422.68 L491.94,421.87 L492.20,420.47 L492.45,418.70 L492.70,416.76 L492.96,414.86 L493.23,413.20 L493.50,412.00 L493.79,411.12 L494.09,410.32 L494.39,409.60 L494.70,409.01 L495.01,408.55 L495.31,408.24 L495.61,408.12 L495.90,408.20 L496.18,408.49 L496.46,408.99 L496.73,409.66 L497.00,410.49 L497.26,411.46 L497.52,412.55 L497.76,413.73 L498.00,415.00 L498.22,416.57 L498.42,418.56 L498.60,420.78 L498.78,423.05 L498.96,425.19 L499.16,427.02 L499.37,428.35 L499.60,429.00 L499.86,428.85 L500.14,428.04 L500.44,426.72 L500.74,425.09 L501.06,423.33 L501.37,421.61 L501.69,420.10 L502.00,419.00 L502.31,418.20 L502.63,417.48 L502.95,416.86 L503.27,416.34 L503.59,415.94 L503.91,415.66 L504.21,415.51 L504.50,415.50 L504.78,415.64 L505.05,415.91 L505.31,416.32 L505.56,416.84 L505.81,417.48 L506.05,418.23 L506.28,419.07 L506.50,420.00 L506.70,421.19 L506.89,422.74 L507.06,424.48 L507.22,426.28 L507.39,427.98 L507.57,429.43 L507.77,430.49 L508.00,431.00 L508.26,430.88 L508.53,430.22 L508.82,429.18 L509.12,427.89 L509.44,426.48 L509.77,425.11 L510.13,423.90 L510.50,423.00 L510.91,422.32 L511.35,421.69 L511.82,421.12 L512.31,420.64 L512.79,420.25 L513.26,419.97 L513.70,419.81 L514.10,419.80 L514.46,419.95 L514.81,420.25 L515.13,420.69 L515.43,421.23 L515.72,421.86 L515.99,422.54 L516.25,423.27 L516.50,424.00 L516.73,424.87 L516.93,425.95 L517.11,427.14 L517.27,428.36 L517.44,429.49 L517.61,430.46 L517.79,431.16 L518.00,431.50 L518.22,431.41 L518.46,430.97 L518.70,430.26 L518.95,429.38 L519.21,428.41 L519.47,427.47 L519.73,426.63 L520.00,426.00 L520.27,425.50 L520.54,425.00 L520.82,424.54 L521.11,424.12 L521.40,423.79 L521.69,423.56 L521.99,423.46 L522.30,423.50 L522.62,423.77 L522.94,424.27 L523.27,424.94 L523.61,425.69 L523.95,426.44 L524.29,427.13 L524.65,427.68 L525.00,428.00 L525.36,428.10 L525.73,428.05 L526.10,427.88 L526.48,427.62 L526.86,427.33 L527.24,427.02 L527.62,426.73 L528.00,426.50" fill="none" stroke="#FFA500" stroke-width="8.6" stroke-linecap="round" stroke-linejoin="round"/>
<path d="M451.60,508.90 L451.72,509.83 L451.84,510.76 L451.96,511.69 L452.08,512.62 L452.20,513.55 L452.32,514.49 L452.46,515.44 L452.60,516.40 L452.75,517.40 L452.91,518.44 L453.08,519.50 L453.25,520.56 L453.43,521.60 L453.61,522.60 L453.80,523.54 L454.00,524.40 L454.20,525.19 L454.42,525.94 L454.64,526.64 L454.86,527.29 L455.09,527.90 L455.33,528.45 L455.56,528.95 L455.80,529.40 L456.04,529.79 L456.29,530.12 L456.54,530.41 L456.79,530.64 L457.04,530.82 L457.30,530.96 L457.55,531.05 L457.80,531.10 L458.05,531.12 L458.31,531.10 L458.57,531.05 L458.83,530.95 L459.09,530.79 L459.34,530.57 L459.57,530.28 L459.80,529.90 L460.01,529.44 L460.21,528.91 L460.41,528.31 L460.59,527.64 L460.77,526.91 L460.95,526.12 L461.13,525.28 L461.30,524.40 L461.47,523.46 L461.64,522.47 L461.80,521.41 L461.96,520.31 L462.11,519.15 L462.27,517.94 L462.43,516.69 L462.60,515.40 L462.77,514.04 L462.95,512.61 L463.12,511.12 L463.30,509.59 L463.48,508.03 L463.65,506.47 L463.83,504.92 L464.00,503.40 L464.17,501.88 L464.34,500.33 L464.50,498.76 L464.67,497.21 L464.83,495.67 L464.99,494.18 L465.15,492.75 L465.30,491.40 L465.43,489.99 L465.54,488.43 L465.64,486.86 L465.74,485.36 L465.86,484.07 L466.00,483.08 L466.17,482.52 L466.40,482.50 L466.68,483.15 L466.99,484.42 L467.33,486.16 L467.70,488.18 L468.10,490.33 L468.51,492.45 L468.95,494.36 L469.40,495.90 L469.88,497.23 L470.41,498.58 L470.97,499.87 L471.54,501.05 L472.12,502.05 L472.68,502.80 L473.21,503.24 L473.70,503.30 L474.14,502.99 L474.55,502.37 L474.92,501.47 L475.29,500.31 L475.65,498.91 L476.01,497.30 L476.39,495.48 L476.80,493.50 L477.24,490.98 L477.70,487.76 L478.17,484.12 L478.66,480.38 L479.14,476.82 L479.61,473.76 L480.07,471.48 L480.50,470.30 L480.91,470.39 L481.30,471.54 L481.68,473.48 L482.04,475.91 L482.41,478.55 L482.77,481.12 L483.13,483.33 L483.50,484.90 L483.88,485.97 L484.26,486.87 L484.65,487.59 L485.03,488.16 L485.41,488.55 L485.79,488.79 L486.15,488.87 L486.50,488.80 L486.84,488.58 L487.16,488.21 L487.48,487.69 L487.79,487.01 L488.09,486.15 L488.39,485.12 L488.70,483.91 L489.00,482.50 L489.31,480.63 L489.61,478.19 L489.92,475.41 L490.23,472.54 L490.53,469.79 L490.82,467.42 L491.12,465.64 L491.40,464.70 L491.67,464.72 L491.94,465.53 L492.20,466.93 L492.45,468.70 L492.70,470.64 L492.96,472.54 L493.23,474.20 L493.50,475.40 L493.79,476.28 L494.09,477.08 L494.39,477.80 L494.70,478.39 L495.01,478.85 L495.31,479.16 L495.61,479.28 L495.90,479.20 L496.18,478.91 L496.46,478.41 L496.73,477.74 L497.00,476.91 L497.26,475.94 L497.52,474.85 L497.76,473.67 L498.00,472.40 L498.22,470.83 L498.42,468.84 L498.60,466.62 L498.78,464.35 L498.96,462.21 L499.16,460.38 L499.37,459.05 L499.60,458.40 L499.86,458.55 L500.14,459.36 L500.44,460.68 L500.74,462.31 L501.06,464.07 L501.37,465.79 L501.69,467.30 L502.00,468.40 L502.31,469.20 L502.63,469.92 L502.95,470.54 L503.27,471.06 L503.59,471.46 L503.91,471.74 L504.21,471.89 L504.50,471.90 L504.78,471.76 L505.05,471.49 L505.31,471.08 L505.56,470.56 L505.81,469.92 L506.05,469.17 L506.28,468.33 L506.50,467.40 L506.70,466.21 L506.89,464.66 L507.06,462.92 L507.22,461.12 L507.39,459.42 L507.57,457.97 L507.77,456.91 L508.00,456.40 L508.26,456.52 L508.53,457.18 L508.82,458.22 L509.12,459.51 L509.44,460.92 L509.77,462.29 L510.13,463.50 L510.50,464.40 L510.91,465.08 L511.35,465.71 L511.82,466.28 L512.31,466.76 L512.79,467.15 L513.26,467.43 L513.70,467.59 L514.10,467.60 L514.46,467.45 L514.81,467.15 L515.13,466.71 L515.43,466.17 L515.72,465.54 L515.99,464.86 L516.25,464.13 L516.50,463.40 L516.73,462.53 L516.93,461.45 L517.11,460.26 L517.27,459.04 L517.44,457.91 L517.61,456.94 L517.79,456.24 L518.00,455.90 L518.22,455.99 L518.46,456.43 L518.70,457.14 L518.95,458.02 L519.21,458.99 L519.47,459.93 L519.73,460.77 L520.00,461.40 L520.27,461.90 L520.54,462.40 L520.82,462.86 L521.11,463.27 L521.40,463.61 L521.69,463.84 L521.99,463.94 L522.30,463.90 L522.62,463.63 L522.94,463.13 L523.27,462.46 L523.61,461.71 L523.95,460.96 L524.29,460.27 L524.65,459.72 L525.00,459.40 L525.36,459.30 L525.73,459.35 L526.10,459.52 L526.48,459.77 L526.86,460.07 L527.24,460.38 L527.62,460.67 L528.00,460.90" fill="none" stroke="#FFA500" stroke-width="8.6" stroke-linecap="round" stroke-linejoin="round"/>
<path d="M77.70,420.49 L78.23,420.49 L79.00,420.42 L79.78,420.34 L80.57,420.27 L81.36,420.19 L82.15,420.11 L82.94,420.02 L83.73,419.94 L84.53,419.85 L85.32,419.76 L86.12,419.66 L86.92,419.57 L87.73,419.47 L88.53,419.37 L89.34,419.26 L90.15,419.15 L90.96,419.05 L91.77,418.93 L92.58,418.82 L93.39,418.70 L94.21,418.58 L95.02,418.45 L95.84,418.33 L96.66,418.20 L97.48,418.06 L98.30,417.93 L99.12,417.79 L99.94,417.65 L100.76,417.50 L101.59,417.35 L102.41,417.20 L103.23,417.05 L104.06,416.89 L104.88,416.73 L105.71,416.56 L106.53,416.39 L107.36,416.22 L108.19,416.05 L109.01,415.87 L109.84,415.69 L110.66,415.50 L111.49,415.31 L112.32,415.12 L113.14,414.92 L113.97,414.72 L114.79,414.52 L115.62,414.31 L116.44,414.10 L117.26,413.89 L118.08,413.67 L118.91,413.44 L119.73,413.22 L120.55,412.99 L121.37,412.75 L122.19,412.52 L123.00,412.27 L123.82,412.03 L124.63,411.78 L125.45,411.52 L126.26,411.26 L127.07,411.00 L127.88,410.73 L128.69,410.46 L129.50,410.19 L130.30,409.91 L131.10,409.62 L131.91,409.34 L132.71,409.04 L133.50,408.75 L134.30,408.44 L135.09,408.14 L135.88,407.83 L136.67,407.51 L137.46,407.19 L138.25,406.87 L139.03,406.54 L139.81,406.20 L140.59,405.87 L141.36,405.52 L142.14,405.17 L142.90,404.82 L143.67,404.46 L144.44,404.10 L145.20,403.73 L145.96,403.36 L146.71,402.98 L147.46,402.60 L148.21,402.21 L148.96,401.82 L149.70,401.42 L150.44,401.01 L151.18,400.61 L151.91,400.19 L152.64,399.77 L153.36,399.35 L154.09,398.92 L154.80,398.48 L155.52,398.04 L156.23,397.59 L156.93,397.14 L157.63,396.68 L158.33,396.22 L159.03,395.75 L159.72,395.28 L160.40,394.80 L161.08,394.31 L161.76,393.82 L162.43,393.32 L163.09,392.82 L163.76,392.31 L164.41,391.79 L165.07,391.27 L165.71,390.75 L166.36,390.21 L166.99,389.67 L167.63,389.13 L168.25,388.58 L168.87,388.02 L169.49,387.46 L170.10,386.89 L170.70,386.31 L171.30,385.73 L171.90,385.15 L172.48,384.56 L173.06,383.96 L173.64,383.36 L174.21,382.76 L174.78,382.15 L175.34,381.53 L175.89,380.91 L176.44,380.29 L176.99,379.66 L177.53,379.03 L178.07,378.39 L178.60,377.75 L179.12,377.10 L179.64,376.45 L180.16,375.80 L180.67,375.14 L181.18,374.47 L181.68,373.81 L182.18,373.14 L182.68,372.47 L183.17,371.79 L183.65,371.11 L184.13,370.43 L184.61,369.74 L185.08,369.05 L185.55,368.35 L186.02,367.66 L186.48,366.96 L186.94,366.26 L187.39,365.55 L187.85,364.84 L188.29,364.13 L188.74,363.42 L189.18,362.70 L189.62,361.99 L190.05,361.26 L190.48,360.54 L190.91,359.82 L191.33,359.09 L191.75,358.36 L192.17,357.63 L192.59,356.89 L193.00,356.16 L193.41,355.42 L193.82,354.68 L194.22,353.94 L194.62,353.20 L195.02,352.46 L195.42,351.71 L195.81,350.97 L196.21,350.22 L196.59,349.47 L196.98,348.72 L197.37,347.97 L197.75,347.22 L198.13,346.47 L198.51,345.71 L198.89,344.96 L199.26,344.21 L199.64,343.45 L200.01,342.69 L200.38,341.94 L200.75,341.18 L201.12,340.43 L201.48,339.67 L201.84,338.91 L202.21,338.15 L202.57,337.40 L202.93,336.64 L203.29,335.88 L203.65,335.13 L204.00,334.37 L204.36,333.62 L204.71,332.86 L205.07,332.11 L205.42,331.35 L205.77,330.60 L206.12,329.85 L206.47,329.09 L206.82,328.34 L207.17,327.59 L207.52,326.84 L207.87,326.10 L208.22,325.35 L208.57,324.61 L208.91,323.86 L209.26,323.12 L209.61,322.38 L209.95,321.64 L210.30,320.90 L210.65,320.17 L210.99,319.44 L211.34,318.70 L211.69,317.97 L212.04,317.25 L212.38,316.52 L212.73,315.80 L213.08,315.08 L213.43,314.37 L213.78,313.66 L214.13,312.95 L214.48,312.25 L214.83,311.55 L215.19,310.86 L215.55,310.18 L215.92,309.50 L216.29,308.82 L216.66,308.16 L217.05,307.49 L217.44,306.83 L217.83,306.18 L218.23,305.54 L218.64,304.90 L219.06,304.26 L219.49,303.63 L219.93,303.01 L220.38,302.39 L220.84,301.78 L221.32,301.17 L221.80,300.57 L222.30,299.98 L222.81,299.39 L223.34,298.80 L223.88,298.23 L224.43,297.67 L224.98,297.13 L225.53,296.62 L226.08,296.15 L226.62,295.73 L227.15,295.35 L227.67,295.03 L228.16,294.76 L228.63,294.55 L229.06,294.40 L229.46,294.30 L229.83,294.24 L230.18,294.24 L230.55,294.27 L230.98,294.36 L231.46,294.51 L231.98,294.71 L232.53,294.97 L233.09,295.28 L233.66,295.62 L234.21,295.99 L234.74,296.37 L235.24,296.77 L235.73,297.19 L236.20,297.63 L236.65,298.08 L237.09,298.56 L237.50,299.05 L237.91,299.56 L238.29,300.09 L238.67,300.64 L239.03,301.21 L239.37,301.79 L239.71,302.39 L240.03,303.01 L240.34,303.64 L240.63,304.29 L240.92,304.96 L241.19,305.64 L241.46,306.34 L241.71,307.05 L241.95,307.77 L242.19,308.51 L242.41,309.26 L242.63,310.01 L242.83,310.78 L243.04,311.56 L243.23,312.35 L243.42,313.15 L243.60,313.95 L243.78,314.76 L243.95,315.57 L244.12,316.40 L244.28,317.22 L244.44,318.05 L244.60,318.89 L244.76,319.72 L244.92,320.56 L245.08,321.40 L245.24,322.24 L245.40,323.08 L245.56,323.91 L245.72,324.75 L245.88,325.58 L246.04,326.40 L246.20,327.23 L246.36,328.06 L246.52,328.88 L246.68,329.70 L246.84,330.52 L246.99,331.34 L247.15,332.16 L247.31,332.97 L247.47,333.79 L247.63,334.60 L247.79,335.41 L247.95,336.22 L248.11,337.03 L248.27,337.84 L248.43,338.64 L248.59,339.45 L248.75,340.25 L248.91,341.05 L249.07,341.85 L249.23,342.66 L249.39,343.46 L249.55,344.25 L249.71,345.05 L249.87,345.85 L250.03,346.65 L250.19,347.44 L250.35,348.24 L250.51,349.03 L250.67,349.83 L250.83,350.62 L250.99,351.41 L251.15,352.20 L251.31,353.00 L251.47,353.79 L251.63,354.58 L251.79,355.37 L251.95,356.16 L252.11,356.95 L252.27,357.74 L252.43,358.53 L252.59,359.32 L252.75,360.12 L252.91,360.91 L253.07,361.70 L253.23,362.49 L253.39,363.28 L253.55,364.07 L253.71,364.86 L253.87,365.65 L254.04,366.45 L254.20,367.24 L254.36,368.03 L254.52,368.83 L254.68,369.62 L254.84,370.41 L255.00,371.21 L255.16,372.01 L255.33,372.80 L255.49,373.60 L255.65,374.40 L255.81,375.20 L255.97,376.00 L256.13,376.80 L256.30,377.60 L256.46,378.40 L256.62,379.21 L256.78,380.01 L256.94,380.82 L257.11,381.63 L257.27,382.44 L257.43,383.25 L257.59,384.06 L257.76,384.87 L257.92,385.69 L258.08,386.50 L258.24,387.32 L258.41,388.14 L258.57,388.96 L258.73,389.78 L258.90,390.61 L259.06,391.43 L259.22,392.26 L259.39,393.09 L259.55,393.92 L259.72,394.76 L259.88,395.59 L260.04,396.43 L260.21,397.27 L262.35,402.61 L262.87,401.90 L263.41,401.25 L263.96,400.66 L264.53,400.12 L265.11,399.63 L265.70,399.20 L266.30,398.82 L266.91,398.50 L267.52,398.22 L268.14,398.00 L268.76,397.82 L269.38,397.70 L270.01,397.62 L270.63,397.59 L271.25,397.60 L271.86,397.66 L272.47,397.77 L273.07,397.92 L273.66,398.11 L274.24,398.35 L274.81,398.62 L275.36,398.94 L275.90,399.29 L276.43,399.68 L276.95,400.09 L277.47,400.53 L277.98,401.00 L278.48,401.48 L278.98,401.97 L279.47,402.48 L279.97,403.00 L280.46,403.51 L280.96,404.03 L281.46,404.54 L281.97,405.05 L282.48,405.54 L283.00,406.02 L283.53,406.48 L284.08,406.92 L284.63,407.33 L285.19,407.72 L285.77,408.07 L286.36,408.40 L286.96,408.71 L287.57,409.01 L288.19,409.28 L288.81,409.55 L289.43,409.81 L290.06,410.06 L290.69,410.31 L291.32,410.56 L291.95,410.82 L292.58,411.08 L293.20,411.35 L293.82,411.62 L294.45,411.89 L295.07,412.16 L295.70,412.43 L296.33,412.70 L296.96,412.96 L297.59,413.22 L298.22,413.48 L298.86,413.73 L299.49,413.98 L300.13,414.23 L300.77,414.47 L301.41,414.71 L302.05,414.95 L302.70,415.18 L303.34,415.41 L303.99,415.64 L304.64,415.87 L305.28,416.09 L305.93,416.31 L306.59,416.52 L307.24,416.74 L307.89,416.95 L308.55,417.16 L309.20,417.36 L309.86,417.57 L310.52,417.77 L311.17,417.96 L311.83,418.16 L312.49,418.35 L313.16,418.54 L313.82,418.73 L314.48,418.92 L315.14,419.10 L315.81,419.28 L316.47,419.46 L317.14,419.64 L317.80,419.82 L318.47,419.99 L319.13,420.16 L319.80,420.33 L320.47,420.50 L321.14,420.66 L321.81,420.82 L322.47,420.98 L323.14,421.14 L323.81,421.30 L324.48,421.46 L325.15,421.61 L325.83,421.76 L326.50,421.91 L327.17,422.06 L327.84,422.20 L328.51,422.35 L329.19,422.49 L329.86,422.63 L330.53,422.77 L331.21,422.91 L331.88,423.04 L332.56,423.18 L333.23,423.31 L333.91,423.44 L334.59,423.57 L335.26,423.70 L335.94,423.82 L336.62,423.95 L337.29,424.07 L337.97,424.19 L338.65,424.31 L339.33,424.43 L340.01,424.55 L340.69,424.66 L341.36,424.77 L342.04,424.89 L342.72,425.00 L343.40,425.11 L344.08,425.22 L344.76,425.32 L345.45,425.43 L346.13,425.53 L346.81,425.64 L347.49,425.74 L348.17,425.84 L348.85,425.94 L349.54,426.04 L350.22,426.14 L350.90,426.23 L351.59,426.33 L352.27,426.42 L352.95,426.51 L353.64,426.61 L354.32,426.70 L355.00,426.79 L355.69,426.87 L356.37,426.96 L357.06,427.05 L357.74,427.13 L358.43,427.22 L359.11,427.30 L359.80,427.39 L360.48,427.47 L361.17,427.55 L361.85,427.63 L362.54,427.71 L363.22,427.79 L363.91,427.87 L364.60,427.94 L365.28,428.02 L365.97,428.09 L366.66,428.17 L367.34,428.24 L368.03,428.32 L368.72,428.39 L369.40,428.46 L370.09,428.53 L370.78,428.61 L371.46,428.68 L372.15,428.75 L372.84,428.82 L373.52,428.88 L374.21,428.95 L374.90,429.02 L375.58,429.09 L376.27,429.16 L376.96,429.22 L377.65,429.29 L378.33,429.35 L379.02,429.42 L379.71,429.49 L380.39,429.55 L381.08,429.61 L381.77,429.68 L382.46,429.74 L383.14,429.81 L383.83,429.87 L384.52,429.93 L385.21,429.99 L385.89,430.05 L386.58,430.12 L387.27,430.18 L387.95,430.24 L388.64,430.30 L389.33,430.36 L390.02,430.42 L390.70,430.48 L391.39,430.54 L392.08,430.59 L392.77,430.65 L393.45,430.71 L394.14,430.77 L394.83,430.82 L395.51,430.88 L396.20,430.94 L396.89,430.99 L397.58,431.05 L398.26,431.10 L398.95,431.16 L399.64,431.21 L400.33,431.27 L401.01,431.32 L401.70,431.38 L402.39,431.43 L403.08,431.48 L403.76,431.53 L404.45,431.59 L405.14,431.64 L405.83,431.69 L406.51,431.74 L407.20,431.79 L407.89,431.84 L408.58,431.89 L409.26,431.94 L409.95,431.99 L410.64,432.04 L411.33,432.09 L412.01,432.14 L412.70,432.19 L413.39,432.24 L414.08,432.28 L414.76,432.33 L415.45,432.38 L416.14,432.43 L416.83,432.47 L417.51,432.52 L418.20,432.57 L418.89,432.61 L419.58,432.66 L420.26,432.70 L420.95,432.75 L421.64,432.79 L422.33,432.84 L423.02,432.88 L423.70,432.92 L424.39,432.97 L425.08,433.01 L425.77,433.05 L426.45,433.10 L427.14,433.14 L427.83,433.18 L428.52,433.22 L429.21,433.26 L429.89,433.30 L430.58,433.35 L431.27,433.39 L431.96,433.43 L432.64,433.47 L433.33,433.51 L434.02,433.55 L434.71,433.59 L435.40,433.62 L436.08,433.66 L436.77,433.70 L437.46,433.74 L438.15,433.78 L438.84,433.82 L439.52,433.85 L440.21,433.89 L440.90,433.93 L441.59,433.96 L442.28,434.00 L442.96,434.04 L443.65,434.07 L444.34,434.11 L445.03,434.15 L445.72,434.18 L446.40,434.22 L447.09,434.25 L447.78,434.29 L448.47,434.32 L449.16,434.35 L449.84,434.39 L450.53,434.42 L451.22,434.46 L451.91,434.49 L452.60,434.52 L453.29,434.56 L453.97,434.59 L454.66,434.62 L455.35,434.65 L456.04,434.68 L456.73,434.72 L457.42,434.75 L458.10,434.78 L458.79,434.81 L459.48,434.84 L460.17,434.87 L460.86,434.90 L461.55,434.93 L462.23,434.96 L462.92,434.99 L463.61,435.02 L464.30,435.05 L464.99,435.08 L465.68,435.11 L466.37,435.14 L467.05,435.17 L467.74,435.20 L468.43,435.23 L469.12,435.26 L469.81,435.28 L470.50,435.31 L471.19,435.34 L471.87,435.37 L472.56,435.40 L473.25,435.42 L473.94,435.45 L474.63,435.48 L475.32,435.50 L476.01,435.53 L476.69,435.56 L477.38,435.58 L478.07,435.61 L478.76,435.64 L479.45,435.66 L480.14,435.69 L480.83,435.71 L481.52,435.74 L482.21,435.76 L482.89,435.79 L483.58,435.81 L484.27,435.84 L484.96,435.86 L485.65,435.89 L486.34,435.91 L487.03,435.94 L487.72,435.96 L488.41,435.98 L489.10,436.01 L489.78,436.03 L490.47,436.05 L491.16,436.08 L491.85,436.10 L492.54,436.12 L493.23,436.15 L493.92,436.17 L494.61,436.19 L495.30,436.22 L495.99,436.24 L496.68,436.26 L497.37,436.28 L498.06,436.30 L498.74,436.33 L499.43,436.35 L500.12,436.37 L500.81,436.39 L501.50,436.41 L502.19,436.44 L502.88,436.46 L503.57,436.48 L504.26,436.50 L504.95,436.52 L505.64,436.54 L506.33,436.56 L507.02,436.58 L507.71,436.60 L508.40,436.62 L509.09,436.64 L509.78,436.67 L510.47,436.69 L511.16,436.71 L511.85,436.73 L512.54,436.75 L513.23,436.77 L513.92,436.79 L514.61,436.81 L515.30,436.83 L515.99,436.85 L516.68,436.87 L517.36,436.88 L518.05,436.90 L518.74,436.92 L519.43,436.94 L520.12,436.96 L520.81,436.98 L521.50,437.00 L522.19,437.02 L522.88,437.04 L523.58,437.06 L524.27,437.08 L524.96,437.10 L525.65,437.11 L526.34,437.13 L527.03,437.15 L527.72,437.17 L528.41,437.19 L528.41,450.21 L527.72,450.23 L527.03,450.25 L526.34,450.27 L525.65,450.29 L524.96,450.30 L524.27,450.32 L523.58,450.34 L522.88,450.36 L522.19,450.38 L521.50,450.40 L520.81,450.42 L520.12,450.44 L519.43,450.46 L518.74,450.48 L518.05,450.50 L517.36,450.52 L516.68,450.53 L515.99,450.55 L515.30,450.57 L514.61,450.59 L513.92,450.61 L513.23,450.63 L512.54,450.65 L511.85,450.67 L511.16,450.69 L510.47,450.71 L509.78,450.73 L509.09,450.76 L508.40,450.78 L507.71,450.80 L507.02,450.82 L506.33,450.84 L505.64,450.86 L504.95,450.88 L504.26,450.90 L503.57,450.92 L502.88,450.94 L502.19,450.96 L501.50,450.99 L500.81,451.01 L500.12,451.03 L499.43,451.05 L498.74,451.07 L498.06,451.10 L497.37,451.12 L496.68,451.14 L495.99,451.16 L495.30,451.18 L494.61,451.21 L493.92,451.23 L493.23,451.25 L492.54,451.28 L491.85,451.30 L491.16,451.32 L490.47,451.35 L489.78,451.37 L489.10,451.39 L488.41,451.42 L487.72,451.44 L487.03,451.46 L486.34,451.49 L485.65,451.51 L484.96,451.54 L484.27,451.56 L483.58,451.59 L482.89,451.61 L482.21,451.64 L481.52,451.66 L480.83,451.69 L480.14,451.71 L479.45,451.74 L478.76,451.76 L478.07,451.79 L477.38,451.82 L476.69,451.84 L476.01,451.87 L475.32,451.90 L474.63,451.92 L473.94,451.95 L473.25,451.98 L472.56,452.00 L471.87,452.03 L471.19,452.06 L470.50,452.09 L469.81,452.12 L469.12,452.14 L468.43,452.17 L467.74,452.20 L467.05,452.23 L466.37,452.26 L465.68,452.29 L464.99,452.32 L464.30,452.35 L463.61,452.38 L462.92,452.41 L462.23,452.44 L461.55,452.47 L460.86,452.50 L460.17,452.53 L459.48,452.56 L458.79,452.59 L458.10,452.62 L457.42,452.65 L456.73,452.68 L456.04,452.72 L455.35,452.75 L454.66,452.78 L453.97,452.81 L453.29,452.84 L452.60,452.88 L451.91,452.91 L451.22,452.94 L450.53,452.98 L449.84,453.01 L449.16,453.05 L448.47,453.08 L447.78,453.11 L447.09,453.15 L446.40,453.18 L445.72,453.22 L445.03,453.25 L444.34,453.29 L443.65,453.33 L442.96,453.36 L442.28,453.40 L441.59,453.44 L440.90,453.47 L440.21,453.51 L439.52,453.55 L438.84,453.58 L438.15,453.62 L437.46,453.66 L436.77,453.70 L436.08,453.74 L435.40,453.78 L434.71,453.81 L434.02,453.85 L433.33,453.89 L432.64,453.93 L431.96,453.97 L431.27,454.01 L430.58,454.05 L429.89,454.10 L429.21,454.14 L428.52,454.18 L427.83,454.22 L427.14,454.26 L426.45,454.30 L425.77,454.35 L425.08,454.39 L424.39,454.43 L423.70,454.48 L423.02,454.52 L422.33,454.56 L421.64,454.61 L420.95,454.65 L420.26,454.70 L419.58,454.74 L418.89,454.79 L418.20,454.83 L417.51,454.88 L416.83,454.93 L416.14,454.97 L415.45,455.02 L414.76,455.07 L414.08,455.12 L413.39,455.16 L412.70,455.21 L412.01,455.26 L411.33,455.31 L410.64,455.36 L409.95,455.41 L409.26,455.46 L408.58,455.51 L407.89,455.56 L407.20,455.61 L406.51,455.66 L405.83,455.71 L405.14,455.76 L404.45,455.81 L403.76,455.87 L403.08,455.92 L402.39,455.97 L401.70,456.02 L401.01,456.08 L400.33,456.13 L399.64,456.19 L398.95,456.24 L398.26,456.30 L397.58,456.35 L396.89,456.41 L396.20,456.46 L395.51,456.52 L394.83,456.58 L394.14,456.63 L393.45,456.69 L392.77,456.75 L392.08,456.81 L391.39,456.86 L390.70,456.92 L390.02,456.98 L389.33,457.04 L388.64,457.10 L387.95,457.16 L387.27,457.22 L386.58,457.28 L385.89,457.35 L385.21,457.41 L384.52,457.47 L383.83,457.53 L383.14,457.59 L382.46,457.66 L381.77,457.72 L381.08,457.79 L380.39,457.85 L379.71,457.91 L379.02,457.98 L378.33,458.05 L377.65,458.11 L376.96,458.18 L376.27,458.24 L375.58,458.31 L374.90,458.38 L374.21,458.45 L373.52,458.52 L372.84,458.58 L372.15,458.65 L371.46,458.72 L370.78,458.79 L370.09,458.87 L369.40,458.94 L368.72,459.01 L368.03,459.08 L367.34,459.16 L366.66,459.23 L365.97,459.31 L365.28,459.38 L364.60,459.46 L363.91,459.53 L363.22,459.61 L362.54,459.69 L361.85,459.77 L361.17,459.85 L360.48,459.93 L359.80,460.01 L359.11,460.10 L358.43,460.18 L357.74,460.27 L357.06,460.35 L356.37,460.44 L355.69,460.53 L355.00,460.61 L354.32,460.70 L353.64,460.79 L352.95,460.89 L352.27,460.98 L351.59,461.07 L350.90,461.17 L350.22,461.26 L349.54,461.36 L348.85,461.46 L348.17,461.56 L347.49,461.66 L346.81,461.76 L346.13,461.87 L345.45,461.97 L344.76,462.08 L344.08,462.18 L343.40,462.29 L342.72,462.40 L342.04,462.51 L341.36,462.63 L340.69,462.74 L340.01,462.85 L339.33,462.97 L338.65,463.09 L337.97,463.21 L337.29,463.33 L336.62,463.45 L335.94,463.58 L335.26,463.70 L334.59,463.83 L333.91,463.96 L333.23,464.09 L332.56,464.22 L331.88,464.36 L331.21,464.49 L330.53,464.63 L329.86,464.77 L329.19,464.91 L328.51,465.05 L327.84,465.20 L327.17,465.34 L326.50,465.49 L325.83,465.64 L325.15,465.79 L324.48,465.94 L323.81,466.10 L323.14,466.26 L322.47,466.42 L321.81,466.58 L321.14,466.74 L320.47,466.90 L319.80,467.07 L319.13,467.24 L318.47,467.41 L317.80,467.58 L317.14,467.76 L316.47,467.94 L315.81,468.12 L315.14,468.30 L314.48,468.48 L313.82,468.67 L313.16,468.86 L312.49,469.05 L311.83,469.24 L311.17,469.44 L310.52,469.63 L309.86,469.83 L309.20,470.04 L308.55,470.24 L307.89,470.45 L307.24,470.66 L306.59,470.88 L305.93,471.09 L305.28,471.31 L304.64,471.53 L303.99,471.76 L303.34,471.99 L302.70,472.22 L302.05,472.45 L301.41,472.69 L300.77,472.93 L300.13,473.17 L299.49,473.42 L298.86,473.67 L298.22,473.92 L297.59,474.18 L296.96,474.44 L296.33,474.70 L295.70,474.97 L295.07,475.24 L294.45,475.51 L293.82,475.78 L293.20,476.05 L292.58,476.32 L291.95,476.58 L291.32,476.84 L290.69,477.09 L290.06,477.34 L289.43,477.59 L288.81,477.85 L288.19,478.12 L287.57,478.39 L286.96,478.69 L286.36,479.00 L285.77,479.33 L285.19,479.68 L284.63,480.07 L284.08,480.48 L283.53,480.92 L283.00,481.38 L282.48,481.86 L281.97,482.35 L281.46,482.86 L280.96,483.37 L280.46,483.89 L279.97,484.40 L279.47,484.92 L278.98,485.43 L278.48,485.92 L277.98,486.40 L277.47,486.87 L276.95,487.31 L276.43,487.72 L275.90,488.11 L275.36,488.46 L274.81,488.78 L274.24,489.05 L273.66,489.29 L273.07,489.48 L272.47,489.63 L271.86,489.74 L271.25,489.80 L270.63,489.81 L270.01,489.78 L269.38,489.70 L268.76,489.58 L268.14,489.40 L267.52,489.18 L266.91,488.90 L266.30,488.58 L265.70,488.20 L265.11,487.77 L264.53,487.28 L263.96,486.74 L263.41,486.15 L262.87,485.50 L262.35,484.79 L260.21,490.13 L260.04,490.97 L259.88,491.81 L259.72,492.64 L259.55,493.48 L259.39,494.31 L259.22,495.14 L259.06,495.97 L258.90,496.79 L258.73,497.62 L258.57,498.44 L258.41,499.26 L258.24,500.08 L258.08,500.90 L257.92,501.71 L257.76,502.53 L257.59,503.34 L257.43,504.15 L257.27,504.96 L257.11,505.77 L256.94,506.58 L256.78,507.39 L256.62,508.19 L256.46,509.00 L256.30,509.80 L256.13,510.60 L255.97,511.40 L255.81,512.20 L255.65,513.00 L255.49,513.80 L255.33,514.60 L255.16,515.39 L255.00,516.19 L254.84,516.99 L254.68,517.78 L254.52,518.57 L254.36,519.37 L254.20,520.16 L254.04,520.95 L253.87,521.75 L253.71,522.54 L253.55,523.33 L253.39,524.12 L253.23,524.91 L253.07,525.70 L252.91,526.49 L252.75,527.28 L252.59,528.08 L252.43,528.87 L252.27,529.66 L252.11,530.45 L251.95,531.24 L251.79,532.03 L251.63,532.82 L251.47,533.61 L251.31,534.40 L251.15,535.20 L250.99,535.99 L250.83,536.78 L250.67,537.57 L250.51,538.37 L250.35,539.16 L250.19,539.96 L250.03,540.75 L249.87,541.55 L249.71,542.35 L249.55,543.15 L249.39,543.94 L249.23,544.74 L249.07,545.55 L248.91,546.35 L248.75,547.15 L248.59,547.95 L248.43,548.76 L248.27,549.56 L248.11,550.37 L247.95,551.18 L247.79,551.99 L247.63,552.80 L247.47,553.61 L247.31,554.43 L247.15,555.24 L246.99,556.06 L246.84,556.88 L246.68,557.70 L246.52,558.52 L246.36,559.34 L246.20,560.17 L246.04,561.00 L245.88,561.82 L245.72,562.65 L245.56,563.49 L245.40,564.32 L245.24,565.16 L245.08,566.00 L244.92,566.84 L244.76,567.68 L244.60,568.51 L244.44,569.35 L244.28,570.18 L244.12,571.00 L243.95,571.83 L243.78,572.64 L243.60,573.45 L243.42,574.25 L243.23,575.05 L243.04,575.84 L242.83,576.62 L242.63,577.39 L242.41,578.14 L242.19,578.89 L241.95,579.63 L241.71,580.35 L241.46,581.06 L241.19,581.76 L240.92,582.44 L240.63,583.11 L240.34,583.76 L240.03,584.39 L239.71,585.01 L239.37,585.61 L239.03,586.19 L238.67,586.76 L238.29,587.31 L237.91,587.84 L237.50,588.35 L237.09,588.84 L236.65,589.32 L236.20,589.77 L235.73,590.21 L235.24,590.63 L234.74,591.03 L234.21,591.41 L233.66,591.78 L233.09,592.12 L232.53,592.43 L231.98,592.69 L231.46,592.89 L230.98,593.04 L230.55,593.13 L230.18,593.16 L229.83,593.16 L229.46,593.10 L229.06,593.00 L228.63,592.85 L228.16,592.64 L227.67,592.37 L227.15,592.05 L226.62,591.67 L226.08,591.25 L225.53,590.78 L224.98,590.27 L224.43,589.73 L223.88,589.17 L223.34,588.60 L222.81,588.01 L222.30,587.42 L221.80,586.83 L221.32,586.23 L220.84,585.62 L220.38,585.01 L219.93,584.39 L219.49,583.77 L219.06,583.14 L218.64,582.50 L218.23,581.86 L217.83,581.22 L217.44,580.57 L217.05,579.91 L216.66,579.24 L216.29,578.58 L215.92,577.90 L215.55,577.22 L215.19,576.54 L214.83,575.85 L214.48,575.15 L214.13,574.45 L213.78,573.74 L213.43,573.03 L213.08,572.32 L212.73,571.60 L212.38,570.88 L212.04,570.15 L211.69,569.43 L211.34,568.70 L210.99,567.96 L210.65,567.23 L210.30,566.50 L209.95,565.76 L209.61,565.02 L209.26,564.28 L208.91,563.54 L208.57,562.79 L208.22,562.05 L207.87,561.30 L207.52,560.56 L207.17,559.81 L206.82,559.06 L206.47,558.31 L206.12,557.55 L205.77,556.80 L205.42,556.05 L205.07,555.29 L204.71,554.54 L204.36,553.78 L204.00,553.03 L203.65,552.27 L203.29,551.52 L202.93,550.76 L202.57,550.00 L202.21,549.25 L201.84,548.49 L201.48,547.73 L201.12,546.97 L200.75,546.22 L200.38,545.46 L200.01,544.71 L199.64,543.95 L199.26,543.19 L198.89,542.44 L198.51,541.69 L198.13,540.93 L197.75,540.18 L197.37,539.43 L196.98,538.68 L196.59,537.93 L196.21,537.18 L195.81,536.43 L195.42,535.69 L195.02,534.94 L194.62,534.20 L194.22,533.46 L193.82,532.72 L193.41,531.98 L193.00,531.24 L192.59,530.51 L192.17,529.77 L191.75,529.04 L191.33,528.31 L190.91,527.58 L190.48,526.86 L190.05,526.14 L189.62,525.41 L189.18,524.70 L188.74,523.98 L188.29,523.27 L187.85,522.56 L187.39,521.85 L186.94,521.14 L186.48,520.44 L186.02,519.74 L185.55,519.05 L185.08,518.35 L184.61,517.66 L184.13,516.97 L183.65,516.29 L183.17,515.61 L182.68,514.93 L182.18,514.26 L181.68,513.59 L181.18,512.93 L180.67,512.26 L180.16,511.60 L179.64,510.95 L179.12,510.30 L178.60,509.65 L178.07,509.01 L177.53,508.37 L176.99,507.74 L176.44,507.11 L175.89,506.49 L175.34,505.87 L174.78,505.25 L174.21,504.64 L173.64,504.04 L173.06,503.44 L172.48,502.84 L171.90,502.25 L171.30,501.67 L170.70,501.09 L170.10,500.51 L169.49,499.94 L168.87,499.38 L168.25,498.82 L167.63,498.27 L166.99,497.73 L166.36,497.19 L165.71,496.65 L165.07,496.13 L164.41,495.61 L163.76,495.09 L163.09,494.58 L162.43,494.08 L161.76,493.58 L161.08,493.09 L160.40,492.60 L159.72,492.12 L159.03,491.65 L158.33,491.18 L157.63,490.72 L156.93,490.26 L156.23,489.81 L155.52,489.36 L154.80,488.92 L154.09,488.48 L153.36,488.05 L152.64,487.63 L151.91,487.21 L151.18,486.79 L150.44,486.39 L149.70,485.98 L148.96,485.58 L148.21,485.19 L147.46,484.80 L146.71,484.42 L145.96,484.04 L145.20,483.67 L144.44,483.30 L143.67,482.94 L142.90,482.58 L142.14,482.23 L141.36,481.88 L140.59,481.53 L139.81,481.20 L139.03,480.86 L138.25,480.53 L137.46,480.21 L136.67,479.89 L135.88,479.57 L135.09,479.26 L134.30,478.96 L133.50,478.65 L132.71,478.36 L131.91,478.06 L131.10,477.78 L130.30,477.49 L129.50,477.21 L128.69,476.94 L127.88,476.67 L127.07,476.40 L126.26,476.14 L125.45,475.88 L124.63,475.62 L123.82,475.37 L123.00,475.13 L122.19,474.88 L121.37,474.65 L120.55,474.41 L119.73,474.18 L118.91,473.96 L118.08,473.73 L117.26,473.51 L116.44,473.30 L115.62,473.09 L114.79,472.88 L113.97,472.68 L113.14,472.48 L112.32,472.28 L111.49,472.09 L110.66,471.90 L109.84,471.71 L109.01,471.53 L108.19,471.35 L107.36,471.18 L106.53,471.01 L105.71,470.84 L104.88,470.67 L104.06,470.51 L103.23,470.35 L102.41,470.20 L101.59,470.05 L100.76,469.90 L99.94,469.75 L99.12,469.61 L98.30,469.47 L97.48,469.34 L96.66,469.20 L95.84,469.07 L95.02,468.95 L94.21,468.82 L93.39,468.70 L92.58,468.58 L91.77,468.47 L90.96,468.35 L90.15,468.25 L89.34,468.14 L88.53,468.03 L87.73,467.93 L86.92,467.83 L86.12,467.74 L85.32,467.64 L84.53,467.55 L83.73,467.46 L82.94,467.38 L82.15,467.29 L81.36,467.21 L80.57,467.13 L79.78,467.06 L79.00,466.98 L78.23,466.91 L77.70,466.91Z" fill="#0000FF"/>
<defs><linearGradient id="gt" x1="0" y1="0" x2="0" y2="1"><stop offset="0" stop-color="#d8d8ff" stop-opacity="1"/><stop offset="1" stop-color="#9090ff" stop-opacity="0.25"/></linearGradient><linearGradient id="gb" x1="0" y1="1" x2="0" y2="0"><stop offset="0" stop-color="#d8d8ff" stop-opacity="1"/><stop offset="1" stop-color="#9090ff" stop-opacity="0.25"/></linearGradient></defs>
<g><rect x="80" y="425.7" width="1" height="3.9" fill="url(#gt)" opacity="0.91"/><rect x="80" y="457.3" width="1" height="4.4" fill="url(#gb)" opacity="0.64"/><rect x="84" y="425.4" width="1" height="4.8" fill="url(#gt)" opacity="0.55"/><rect x="84" y="457.4" width="1" height="4.6" fill="url(#gb)" opacity="0.87"/><rect x="88" y="424.9" width="1" height="3.0" fill="url(#gt)" opacity="0.66"/><rect x="88" y="459.7" width="1" height="2.8" fill="url(#gb)" opacity="0.73"/><rect x="92" y="424.4" width="1" height="3.9" fill="url(#gt)" opacity="0.95"/><rect x="92" y="458.3" width="1" height="4.7" fill="url(#gb)" opacity="0.80"/><rect x="97" y="423.6" width="1" height="2.8" fill="url(#gt)" opacity="0.61"/><rect x="97" y="459.6" width="1" height="4.2" fill="url(#gb)" opacity="0.57"/><rect x="100" y="423.1" width="1" height="4.0" fill="url(#gt)" opacity="0.74"/><rect x="100" y="458.9" width="1" height="5.4" fill="url(#gb)" opacity="0.80"/><rect x="104" y="422.4" width="1" height="4.0" fill="url(#gt)" opacity="0.65"/><rect x="104" y="462.8" width="1" height="2.2" fill="url(#gb)" opacity="0.63"/><rect x="108" y="421.5" width="1" height="3.0" fill="url(#gt)" opacity="0.70"/><rect x="108" y="463.7" width="1" height="2.2" fill="url(#gb)" opacity="0.88"/><rect x="111" y="420.8" width="1" height="3.3" fill="url(#gt)" opacity="0.90"/><rect x="111" y="462.4" width="1" height="4.3" fill="url(#gb)" opacity="0.89"/><rect x="116" y="419.7" width="1" height="5.4" fill="url(#gt)" opacity="0.59"/><rect x="116" y="463.1" width="1" height="4.6" fill="url(#gb)" opacity="0.75"/><rect x="120" y="418.4" width="1" height="4.1" fill="url(#gt)" opacity="0.79"/><rect x="120" y="466.2" width="1" height="2.7" fill="url(#gb)" opacity="0.71"/><rect x="124" y="417.4" width="1" height="3.2" fill="url(#gt)" opacity="0.88"/><rect x="124" y="465.7" width="1" height="4.3" fill="url(#gb)" opacity="0.94"/><rect x="128" y="416.0" width="1" height="5.7" fill="url(#gt)" opacity="0.81"/><rect x="128" y="465.3" width="1" height="6.0" fill="url(#gb)" opacity="0.61"/><rect x="132" y="414.7" width="1" height="4.0" fill="url(#gt)" opacity="0.71"/><rect x="132" y="469.4" width="1" height="3.3" fill="url(#gb)" opacity="0.94"/><rect x="135" y="413.4" width="1" height="6.7" fill="url(#gt)" opacity="0.67"/><rect x="135" y="466.2" width="1" height="7.8" fill="url(#gb)" opacity="0.81"/><rect x="139" y="412.1" width="1" height="8.0" fill="url(#gt)" opacity="0.93"/><rect x="139" y="467.0" width="1" height="8.4" fill="url(#gb)" opacity="0.78"/><rect x="142" y="410.6" width="1" height="4.3" fill="url(#gt)" opacity="0.92"/><rect x="142" y="470.2" width="1" height="6.6" fill="url(#gb)" opacity="0.62"/><rect x="147" y="408.3" width="1" height="7.8" fill="url(#gt)" opacity="0.78"/><rect x="147" y="473.2" width="1" height="5.9" fill="url(#gb)" opacity="0.71"/><rect x="150" y="406.5" width="1" height="3.7" fill="url(#gt)" opacity="0.90"/><rect x="150" y="474.0" width="1" height="6.9" fill="url(#gb)" opacity="0.77"/><rect x="154" y="404.4" width="1" height="9.7" fill="url(#gt)" opacity="0.56"/><rect x="154" y="476.4" width="1" height="6.6" fill="url(#gb)" opacity="0.56"/><rect x="157" y="402.4" width="1" height="12.2" fill="url(#gt)" opacity="0.81"/><rect x="157" y="477.5" width="1" height="7.5" fill="url(#gb)" opacity="0.76"/><rect x="162" y="399.1" width="1" height="7.4" fill="url(#gt)" opacity="0.79"/><rect x="162" y="477.6" width="1" height="10.7" fill="url(#gb)" opacity="0.69"/><rect x="166" y="395.9" width="1" height="12.6" fill="url(#gt)" opacity="0.91"/><rect x="166" y="485.5" width="1" height="5.9" fill="url(#gb)" opacity="0.92"/><rect x="169" y="393.3" width="1" height="13.4" fill="url(#gt)" opacity="0.87"/><rect x="169" y="488.0" width="1" height="6.1" fill="url(#gb)" opacity="0.72"/><rect x="174" y="388.8" width="1" height="5.0" fill="url(#gt)" opacity="0.80"/><rect x="174" y="483.0" width="1" height="15.6" fill="url(#gb)" opacity="0.76"/><rect x="178" y="383.8" width="1" height="8.8" fill="url(#gt)" opacity="0.63"/><rect x="178" y="492.7" width="1" height="10.9" fill="url(#gb)" opacity="0.62"/><rect x="182" y="379.1" width="1" height="22.3" fill="url(#gt)" opacity="0.78"/><rect x="182" y="496.7" width="1" height="11.6" fill="url(#gb)" opacity="0.66"/><rect x="187" y="372.1" width="1" height="15.4" fill="url(#gt)" opacity="0.94"/><rect x="187" y="498.4" width="1" height="16.9" fill="url(#gb)" opacity="0.76"/><rect x="191" y="364.3" width="1" height="25.2" fill="url(#gt)" opacity="0.78"/><rect x="191" y="505.7" width="1" height="17.4" fill="url(#gb)" opacity="0.90"/><rect x="194" y="358.8" width="1" height="32.8" fill="url(#gt)" opacity="0.58"/><rect x="194" y="509.4" width="1" height="19.1" fill="url(#gb)" opacity="0.76"/><rect x="198" y="351.3" width="1" height="15.9" fill="url(#gt)" opacity="0.87"/><rect x="198" y="506.6" width="1" height="29.5" fill="url(#gb)" opacity="0.84"/><rect x="202" y="344.4" width="1" height="43.6" fill="url(#gt)" opacity="0.68"/><rect x="202" y="520.2" width="1" height="22.8" fill="url(#gb)" opacity="0.63"/><rect x="204" y="339.1" width="1" height="17.2" fill="url(#gt)" opacity="0.92"/><rect x="204" y="506.1" width="1" height="42.1" fill="url(#gb)" opacity="0.59"/><rect x="208" y="331.9" width="1" height="30.7" fill="url(#gt)" opacity="0.79"/><rect x="208" y="516.7" width="1" height="38.8" fill="url(#gb)" opacity="0.67"/><rect x="212" y="323.6" width="1" height="33.6" fill="url(#gt)" opacity="0.80"/><rect x="212" y="521.6" width="1" height="42.2" fill="url(#gb)" opacity="0.62"/><rect x="214" y="318.4" width="1" height="32.9" fill="url(#gt)" opacity="0.86"/><rect x="214" y="514.1" width="1" height="54.9" fill="url(#gb)" opacity="0.84"/><rect x="217" y="313.5" width="1" height="64.2" fill="url(#gt)" opacity="0.87"/><rect x="217" y="511.8" width="1" height="62.1" fill="url(#gb)" opacity="0.76"/><rect x="221" y="307.6" width="1" height="14.3" fill="url(#gt)" opacity="0.56"/><rect x="221" y="567.2" width="1" height="12.6" fill="url(#gb)" opacity="0.65"/><rect x="223" y="304.2" width="1" height="24.0" fill="url(#gt)" opacity="0.78"/><rect x="223" y="569.0" width="1" height="14.2" fill="url(#gb)" opacity="0.79"/><rect x="226" y="301.6" width="1" height="58.1" fill="url(#gt)" opacity="0.56"/><rect x="226" y="552.8" width="1" height="33.0" fill="url(#gb)" opacity="0.93"/><rect x="229" y="299.7" width="1" height="68.7" fill="url(#gt)" opacity="0.81"/><rect x="229" y="533.0" width="1" height="54.7" fill="url(#gb)" opacity="0.63"/><rect x="233" y="300.4" width="1" height="14.6" fill="url(#gt)" opacity="0.87"/><rect x="233" y="508.5" width="1" height="78.5" fill="url(#gb)" opacity="0.89"/><rect x="235" y="302.0" width="1" height="34.8" fill="url(#gt)" opacity="0.68"/><rect x="235" y="565.9" width="1" height="19.4" fill="url(#gb)" opacity="0.80"/><rect x="239" y="306.2" width="1" height="31.6" fill="url(#gt)" opacity="0.90"/><rect x="239" y="518.4" width="1" height="62.8" fill="url(#gb)" opacity="0.60"/><rect x="242" y="314.5" width="1" height="61.6" fill="url(#gt)" opacity="0.63"/><rect x="242" y="529.1" width="1" height="43.8" fill="url(#gb)" opacity="0.81"/><rect x="246" y="330.3" width="1" height="13.9" fill="url(#gt)" opacity="0.81"/><rect x="246" y="518.7" width="1" height="38.4" fill="url(#gb)" opacity="0.88"/><rect x="249" y="349.1" width="1" height="18.9" fill="url(#gt)" opacity="0.84"/><rect x="249" y="501.4" width="1" height="36.9" fill="url(#gb)" opacity="0.91"/><rect x="252" y="362.3" width="1" height="7.6" fill="url(#gt)" opacity="0.81"/><rect x="252" y="512.6" width="1" height="12.5" fill="url(#gb)" opacity="0.78"/><rect x="256" y="381.6" width="1" height="11.7" fill="url(#gt)" opacity="0.65"/><rect x="256" y="492.9" width="1" height="13.0" fill="url(#gb)" opacity="0.81"/><rect x="259" y="397.6" width="1" height="8.1" fill="url(#gt)" opacity="0.60"/><rect x="259" y="478.8" width="1" height="11.0" fill="url(#gb)" opacity="0.88"/><rect x="263" y="405.6" width="1" height="3.3" fill="url(#gt)" opacity="0.77"/><rect x="263" y="479.0" width="1" height="2.8" fill="url(#gb)" opacity="0.65"/><rect x="267" y="402.4" width="1" height="3.9" fill="url(#gt)" opacity="0.58"/><rect x="267" y="479.9" width="1" height="5.0" fill="url(#gb)" opacity="0.78"/><rect x="270" y="401.4" width="1" height="2.5" fill="url(#gt)" opacity="0.86"/><rect x="270" y="483.3" width="1" height="2.7" fill="url(#gb)" opacity="0.60"/><rect x="273" y="401.9" width="1" height="2.5" fill="url(#gt)" opacity="0.91"/><rect x="273" y="482.3" width="1" height="3.2" fill="url(#gb)" opacity="0.67"/><rect x="278" y="405.0" width="1" height="4.3" fill="url(#gt)" opacity="0.62"/><rect x="278" y="478.8" width="1" height="3.6" fill="url(#gb)" opacity="0.90"/><rect x="282" y="408.8" width="1" height="4.2" fill="url(#gt)" opacity="0.59"/><rect x="282" y="474.4" width="1" height="4.2" fill="url(#gb)" opacity="0.86"/><rect x="287" y="412.3" width="1" height="3.7" fill="url(#gt)" opacity="0.70"/><rect x="287" y="473.2" width="1" height="1.9" fill="url(#gb)" opacity="0.76"/><rect x="291" y="414.3" width="1" height="2.1" fill="url(#gt)" opacity="0.66"/><rect x="291" y="470.0" width="1" height="3.1" fill="url(#gb)" opacity="0.85"/><rect x="296" y="416.3" width="1" height="1.8" fill="url(#gt)" opacity="0.62"/><rect x="296" y="467.5" width="1" height="3.6" fill="url(#gb)" opacity="0.81"/></g>
<path d="M78.64,424.97 L79.42,424.90 L80.21,424.82 L81.01,424.74 L81.81,424.66 L82.61,424.58 L83.42,424.50 L84.22,424.41 L85.03,424.32 L85.84,424.23 L86.65,424.13 L87.47,424.03 L88.28,423.93 L89.10,423.83 L89.92,423.72 L90.74,423.62 L91.57,423.50 L92.39,423.39 L93.22,423.27 L94.05,423.15 L94.88,423.03 L95.71,422.90 L96.54,422.77 L97.37,422.64 L98.21,422.50 L99.04,422.37 L99.88,422.22 L100.72,422.08 L101.55,421.93 L102.39,421.78 L103.23,421.62 L104.07,421.47 L104.92,421.30 L105.76,421.14 L106.60,420.97 L107.44,420.80 L108.28,420.62 L109.13,420.45 L109.97,420.26 L110.82,420.08 L111.66,419.89 L112.50,419.70 L113.35,419.50 L114.19,419.30 L115.04,419.09 L115.88,418.89 L116.72,418.67 L117.57,418.46 L118.41,418.24 L119.25,418.01 L120.09,417.79 L120.93,417.55 L121.77,417.32 L122.61,417.08 L123.45,416.83 L124.29,416.58 L125.13,416.33 L125.97,416.08 L126.80,415.81 L127.64,415.55 L128.47,415.28 L129.30,415.00 L130.13,414.73 L130.96,414.44 L131.79,414.16 L132.62,413.86 L133.44,413.57 L134.26,413.26 L135.09,412.96 L135.91,412.65 L136.72,412.33 L137.54,412.01 L138.36,411.69 L139.17,411.36 L139.98,411.02 L140.79,410.68 L141.59,410.34 L142.40,409.99 L143.20,409.63 L144.00,409.27 L144.79,408.91 L145.59,408.53 L146.38,408.16 L147.17,407.78 L147.96,407.39 L148.74,407.00 L149.52,406.60 L150.30,406.20 L151.07,405.79 L151.84,405.38 L152.61,404.96 L153.38,404.53 L154.14,404.10 L154.90,403.66 L155.65,403.22 L156.41,402.77 L157.15,402.32 L157.90,401.86 L158.64,401.39 L159.38,400.92 L160.11,400.44 L160.84,399.96 L161.56,399.47 L162.28,398.97 L163.00,398.47 L163.71,397.96 L164.42,397.45 L165.12,396.93 L165.82,396.40 L166.52,395.86 L167.21,395.32 L167.89,394.78 L168.57,394.22 L169.25,393.66 L169.92,393.09 L170.58,392.52 L171.24,391.94 L171.89,391.35 L172.54,390.76 L173.18,390.16 L173.82,389.56 L174.45,388.95 L175.07,388.34 L175.69,387.72 L176.30,387.09 L176.90,386.47 L177.50,385.83" fill="none" stroke="#000010" stroke-width="3" stroke-dasharray="1.9 2.5"/>
<path d="M78.64,462.43 L79.42,462.50 L80.21,462.58 L81.01,462.66 L81.81,462.74 L82.61,462.82 L83.42,462.90 L84.22,462.99 L85.03,463.08 L85.84,463.17 L86.65,463.27 L87.47,463.37 L88.28,463.47 L89.10,463.57 L89.92,463.68 L90.74,463.78 L91.57,463.90 L92.39,464.01 L93.22,464.13 L94.05,464.25 L94.88,464.37 L95.71,464.50 L96.54,464.63 L97.37,464.76 L98.21,464.90 L99.04,465.03 L99.88,465.18 L100.72,465.32 L101.55,465.47 L102.39,465.62 L103.23,465.78 L104.07,465.93 L104.92,466.10 L105.76,466.26 L106.60,466.43 L107.44,466.60 L108.28,466.78 L109.13,466.95 L109.97,467.14 L110.82,467.32 L111.66,467.51 L112.50,467.70 L113.35,467.90 L114.19,468.10 L115.04,468.31 L115.88,468.51 L116.72,468.73 L117.57,468.94 L118.41,469.16 L119.25,469.39 L120.09,469.61 L120.93,469.85 L121.77,470.08 L122.61,470.32 L123.45,470.57 L124.29,470.82 L125.13,471.07 L125.97,471.32 L126.80,471.59 L127.64,471.85 L128.47,472.12 L129.30,472.40 L130.13,472.67 L130.96,472.96 L131.79,473.24 L132.62,473.54 L133.44,473.83 L134.26,474.14 L135.09,474.44 L135.91,474.75 L136.72,475.07 L137.54,475.39 L138.36,475.71 L139.17,476.04 L139.98,476.38 L140.79,476.72 L141.59,477.06 L142.40,477.41 L143.20,477.77 L144.00,478.13 L144.79,478.49 L145.59,478.87 L146.38,479.24 L147.17,479.62 L147.96,480.01 L148.74,480.40 L149.52,480.80 L150.30,481.20 L151.07,481.61 L151.84,482.02 L152.61,482.44 L153.38,482.87 L154.14,483.30 L154.90,483.74 L155.65,484.18 L156.41,484.63 L157.15,485.08 L157.90,485.54 L158.64,486.01 L159.38,486.48 L160.11,486.96 L160.84,487.44 L161.56,487.93 L162.28,488.43 L163.00,488.93 L163.71,489.44 L164.42,489.95 L165.12,490.47 L165.82,491.00 L166.52,491.54 L167.21,492.08 L167.89,492.62 L168.57,493.18 L169.25,493.74 L169.92,494.31 L170.58,494.88 L171.24,495.46 L171.89,496.05 L172.54,496.64 L173.18,497.24 L173.82,497.84 L174.45,498.45 L175.07,499.06 L175.69,499.68 L176.30,500.31 L176.90,500.93 L177.50,501.57" fill="none" stroke="#000010" stroke-width="3" stroke-dasharray="1.9 2.5"/>
<path d="M165.12,396.93 L165.82,396.40 L166.52,395.86 L167.21,395.32 L167.89,394.78 L168.57,394.22 L169.25,393.66 L169.92,393.09 L170.58,392.52 L171.24,391.94 L171.89,391.35 L172.54,390.76 L173.18,390.16 L173.82,389.56 L174.45,388.95 L175.07,388.34 L175.69,387.72 L176.30,387.09 L176.90,386.47 L177.50,385.83 L178.09,385.19 L178.68,384.55 L179.26,383.90 L179.83,383.25 L180.40,382.59 L180.97,381.93 L181.52,381.27 L182.08,380.60 L182.62,379.93 L183.17,379.25 L183.70,378.57 L184.23,377.89 L184.76,377.20 L185.28,376.51 L185.80,375.81 L186.31,375.12 L186.82,374.42 L187.32,373.71 L187.82,373.01 L188.31,372.30 L188.80,371.58 L189.29,370.87 L189.77,370.15 L190.24,369.43 L190.72,368.71 L191.18,367.98 L191.65,367.25 L192.11,366.52 L192.56,365.79 L193.02,365.05 L193.46,364.32 L193.91,363.58 L194.35,362.84 L194.79,362.09 L195.22,361.35 L195.65,360.60 L196.08,359.85 L196.51,359.10 L196.93,358.35 L197.35,357.60 L197.76,356.85 L198.17,356.09 L198.58,355.34 L198.99,354.58 L199.39,353.82 L199.79,353.06 L200.19,352.30 L200.59,351.54 L200.98,350.78 L201.37,350.02 L201.76,349.26 L202.15,348.50 L202.53,347.73 L202.92,346.97 L203.30,346.21 L203.67,345.44 L204.05,344.68 L204.42,343.91 L204.80,343.15 L205.17,342.39 L205.53,341.62 L205.90,340.86 L206.27,340.10 L206.63,339.33 L206.99,338.57 L207.35,337.81 L207.71,337.05 L208.07,336.29 L208.43,335.53 L208.79,334.77 L209.14,334.01 L209.50,333.26 L209.85,332.50 L210.20,331.75 L210.55,331.00 L210.90,330.24 L211.25,329.49 L211.60,328.75 L211.95,328.00 L212.30,327.25 L212.64,326.51 L212.99,325.77 L213.34,325.03 L213.68,324.29 L214.03,323.56 L214.37,322.82 L214.72,322.09 L215.06,321.36 L215.41,320.63 L215.75,319.91 L216.10,319.19 L216.44,318.47 L216.78,317.75 L217.13,317.04 L217.47,316.34 L217.81,315.65 L218.15,314.96 L218.49,314.28 L218.84,313.61 L219.18,312.95 L219.52,312.30 L219.87,311.65 L220.22,311.01 L220.58,310.38 L220.93,309.76 L221.30,309.14 L221.66,308.54 L222.04,307.94 L222.42,307.35 L222.80,306.77 L223.19,306.19 L223.59,305.63 L224.00,305.07 L224.42,304.51 L224.84,303.97 L225.28,303.43 L225.72,302.90 L226.18,302.37 L226.65,301.85 L227.13,301.34 L227.61,300.85 L228.07,300.40 L228.51,299.99 L228.93,299.64 L229.32,299.33 L229.66,299.09 L229.95,298.91 L230.17,298.79 L230.31,298.72 L230.37,298.70 L230.33,298.71 L230.21,298.73 L230.01,298.73 L229.85,298.72 L229.84,298.72 L229.96,298.75 L230.19,298.84 L230.50,298.99 L230.86,299.18 L231.25,299.42 L231.64,299.68 L232.02,299.95 L232.38,300.24 L232.73,300.54 L233.06,300.86 L233.39,301.19 L233.71,301.53 L234.02,301.90 L234.32,302.29 L234.62,302.69 L234.91,303.12 L235.19,303.56 L235.47,304.03 L235.74,304.52 L236.01,305.03 L236.27,305.56 L236.52,306.11 L236.76,306.68 L237.00,307.28 L237.23,307.89 L237.46,308.52 L237.67,309.17 L237.89,309.84 L238.09,310.52 L238.29,311.22 L238.48,311.93 L238.67,312.66 L238.85,313.40 L239.03,314.16 L239.21,314.92 L239.38,315.70 L239.54,316.49 L239.71,317.29 L239.87,318.10 L240.03,318.91 L240.18,319.74 L240.34,320.57 L240.50,321.40 L240.66,322.24 L240.82,323.08 L240.98,323.92 L241.14,324.76 L241.30,325.59 L241.46,326.42 L241.62,327.26 L241.78,328.08 L241.94,328.91 L242.10,329.74 L242.26,330.56 L242.42,331.38 L242.58,332.20 L242.74,333.02 L242.90,333.84 L243.06,334.65 L243.22,335.47 L243.38,336.28 L243.54,337.09 L243.70,337.90 L243.86,338.71 L244.02,339.52 L244.18,340.32 L244.34,341.13 L244.49,341.93 L244.65,342.73 L244.81,343.54 L244.97,344.34 L245.13,345.14 L245.29,345.94 L245.45,346.73 L245.61,347.53 L245.77,348.33 L245.93,349.12 L246.09,349.92 L246.25,350.71 L246.41,351.51 L246.58,352.30 L246.74,353.10 L246.90,353.89 L247.06,354.68 L247.22,355.47 L247.38,356.26 L247.54,357.06 L247.70,357.85 L247.86,358.64 L248.02,359.43 L248.18,360.22 L248.34,361.01 L248.50,361.80 L248.66,362.59 L248.82,363.38 L248.98,364.17 L249.14,364.97 L249.30,365.76 L249.46,366.55 L249.63,367.34 L249.79,368.13 L249.95,368.93 L250.11,369.72 L250.27,370.51 L250.43,371.31 L250.59,372.10 L250.75,372.90 L250.91,373.70 L251.08,374.49 L251.24,375.29 L251.40,376.09 L251.56,376.89 L251.72,377.69 L251.88,378.49 L252.05,379.29 L252.21,380.10 L252.37,380.90 L252.53,381.71 L252.69,382.51 L252.86,383.32 L253.02,384.13 L253.18,384.94 L253.34,385.76 L253.51,386.57 L253.67,387.38 L253.83,388.20 L253.99,389.02 L254.16,389.84 L254.32,390.66 L254.48,391.48 L254.65,392.31 L254.81,393.13 L254.97,393.96 L255.14,394.79 L255.30,395.62 L255.46,396.46 L255.63,397.29 L255.79,398.13" fill="none" stroke="#00006a" stroke-opacity="0.75" stroke-width="2.6"/>
<path d="M165.12,490.47 L165.82,491.00 L166.52,491.54 L167.21,492.08 L167.89,492.62 L168.57,493.18 L169.25,493.74 L169.92,494.31 L170.58,494.88 L171.24,495.46 L171.89,496.05 L172.54,496.64 L173.18,497.24 L173.82,497.84 L174.45,498.45 L175.07,499.06 L175.69,499.68 L176.30,500.31 L176.90,500.93 L177.50,501.57 L178.09,502.21 L178.68,502.85 L179.26,503.50 L179.83,504.15 L180.40,504.81 L180.97,505.47 L181.52,506.13 L182.08,506.80 L182.62,507.47 L183.17,508.15 L183.70,508.83 L184.23,509.51 L184.76,510.20 L185.28,510.89 L185.80,511.59 L186.31,512.28 L186.82,512.98 L187.32,513.69 L187.82,514.39 L188.31,515.10 L188.80,515.82 L189.29,516.53 L189.77,517.25 L190.24,517.97 L190.72,518.69 L191.18,519.42 L191.65,520.15 L192.11,520.88 L192.56,521.61 L193.02,522.35 L193.46,523.08 L193.91,523.82 L194.35,524.56 L194.79,525.31 L195.22,526.05 L195.65,526.80 L196.08,527.55 L196.51,528.30 L196.93,529.05 L197.35,529.80 L197.76,530.55 L198.17,531.31 L198.58,532.06 L198.99,532.82 L199.39,533.58 L199.79,534.34 L200.19,535.10 L200.59,535.86 L200.98,536.62 L201.37,537.38 L201.76,538.14 L202.15,538.90 L202.53,539.67 L202.92,540.43 L203.30,541.19 L203.67,541.96 L204.05,542.72 L204.42,543.49 L204.80,544.25 L205.17,545.01 L205.53,545.78 L205.90,546.54 L206.27,547.30 L206.63,548.07 L206.99,548.83 L207.35,549.59 L207.71,550.35 L208.07,551.11 L208.43,551.87 L208.79,552.63 L209.14,553.39 L209.50,554.14 L209.85,554.90 L210.20,555.65 L210.55,556.40 L210.90,557.16 L211.25,557.91 L211.60,558.65 L211.95,559.40 L212.30,560.15 L212.64,560.89 L212.99,561.63 L213.34,562.37 L213.68,563.11 L214.03,563.84 L214.37,564.58 L214.72,565.31 L215.06,566.04 L215.41,566.77 L215.75,567.49 L216.10,568.21 L216.44,568.93 L216.78,569.65 L217.13,570.36 L217.47,571.06 L217.81,571.75 L218.15,572.44 L218.49,573.12 L218.84,573.79 L219.18,574.45 L219.52,575.10 L219.87,575.75 L220.22,576.39 L220.58,577.02 L220.93,577.64 L221.30,578.26 L221.66,578.86 L222.04,579.46 L222.42,580.05 L222.80,580.63 L223.19,581.21 L223.59,581.77 L224.00,582.33 L224.42,582.89 L224.84,583.43 L225.28,583.97 L225.72,584.50 L226.18,585.03 L226.65,585.55 L227.13,586.06 L227.61,586.55 L228.07,587.00 L228.51,587.41 L228.93,587.76 L229.32,588.07 L229.66,588.31 L229.95,588.49 L230.17,588.61 L230.31,588.68 L230.37,588.70 L230.33,588.69 L230.21,588.67 L230.01,588.67 L229.85,588.68 L229.84,588.68 L229.96,588.65 L230.19,588.56 L230.50,588.41 L230.86,588.22 L231.25,587.98 L231.64,587.72 L232.02,587.45 L232.38,587.16 L232.73,586.86 L233.06,586.54 L233.39,586.21 L233.71,585.87 L234.02,585.50 L234.32,585.11 L234.62,584.71 L234.91,584.28 L235.19,583.84 L235.47,583.37 L235.74,582.88 L236.01,582.37 L236.27,581.84 L236.52,581.29 L236.76,580.72 L237.00,580.12 L237.23,579.51 L237.46,578.88 L237.67,578.23 L237.89,577.56 L238.09,576.88 L238.29,576.18 L238.48,575.47 L238.67,574.74 L238.85,574.00 L239.03,573.24 L239.21,572.48 L239.38,571.70 L239.54,570.91 L239.71,570.11 L239.87,569.30 L240.03,568.49 L240.18,567.66 L240.34,566.83 L240.50,566.00 L240.66,565.16 L240.82,564.32 L240.98,563.48 L241.14,562.64 L241.30,561.81 L241.46,560.98 L241.62,560.14 L241.78,559.32 L241.94,558.49 L242.10,557.66 L242.26,556.84 L242.42,556.02 L242.58,555.20 L242.74,554.38 L242.90,553.56 L243.06,552.75 L243.22,551.93 L243.38,551.12 L243.54,550.31 L243.70,549.50 L243.86,548.69 L244.02,547.88 L244.18,547.08 L244.34,546.27 L244.49,545.47 L244.65,544.67 L244.81,543.86 L244.97,543.06 L245.13,542.26 L245.29,541.46 L245.45,540.67 L245.61,539.87 L245.77,539.07 L245.93,538.28 L246.09,537.48 L246.25,536.69 L246.41,535.89 L246.58,535.10 L246.74,534.30 L246.90,533.51 L247.06,532.72 L247.22,531.93 L247.38,531.14 L247.54,530.34 L247.70,529.55 L247.86,528.76 L248.02,527.97 L248.18,527.18 L248.34,526.39 L248.50,525.60 L248.66,524.81 L248.82,524.02 L248.98,523.23 L249.14,522.43 L249.30,521.64 L249.46,520.85 L249.63,520.06 L249.79,519.27 L249.95,518.47 L250.11,517.68 L250.27,516.89 L250.43,516.09 L250.59,515.30 L250.75,514.50 L250.91,513.70 L251.08,512.91 L251.24,512.11 L251.40,511.31 L251.56,510.51 L251.72,509.71 L251.88,508.91 L252.05,508.11 L252.21,507.30 L252.37,506.50 L252.53,505.69 L252.69,504.89 L252.86,504.08 L253.02,503.27 L253.18,502.46 L253.34,501.64 L253.51,500.83 L253.67,500.02 L253.83,499.20 L253.99,498.38 L254.16,497.56 L254.32,496.74 L254.48,495.92 L254.65,495.09 L254.81,494.27 L254.97,493.44 L255.14,492.61 L255.30,491.78 L255.46,490.94 L255.63,490.11 L255.79,489.27" fill="none" stroke="#00006a" stroke-opacity="0.75" stroke-width="2.6"/>
<path d="M78.23,420.49 L79.00,420.42 L79.78,420.34 L80.57,420.27 L81.36,420.19 L82.15,420.11 L82.94,420.02 L83.73,419.94 L84.53,419.85 L85.32,419.76 L86.12,419.66 L86.92,419.57 L87.73,419.47 L88.53,419.37 L89.34,419.26 L90.15,419.15 L90.96,419.05 L91.77,418.93 L92.58,418.82 L93.39,418.70 L94.21,418.58 L95.02,418.45 L95.84,418.33 L96.66,418.20 L97.48,418.06 L98.30,417.93 L99.12,417.79 L99.94,417.65 L100.76,417.50 L101.59,417.35 L102.41,417.20 L103.23,417.05 L104.06,416.89 L104.88,416.73 L105.71,416.56 L106.53,416.39 L107.36,416.22 L108.19,416.05 L109.01,415.87 L109.84,415.69 L110.66,415.50 L111.49,415.31 L112.32,415.12 L113.14,414.92 L113.97,414.72 L114.79,414.52 L115.62,414.31 L116.44,414.10 L117.26,413.89 L118.08,413.67 L118.91,413.44 L119.73,413.22 L120.55,412.99 L121.37,412.75 L122.19,412.52 L123.00,412.27 L123.82,412.03 L124.63,411.78 L125.45,411.52 L126.26,411.26 L127.07,411.00 L127.88,410.73 L128.69,410.46 L129.50,410.19 L130.30,409.91 L131.10,409.62 L131.91,409.34 L132.71,409.04 L133.50,408.75 L134.30,408.44 L135.09,408.14 L135.88,407.83 L136.67,407.51 L137.46,407.19 L138.25,406.87 L139.03,406.54 L139.81,406.20 L140.59,405.87 L141.36,405.52 L142.14,405.17 L142.90,404.82 L143.67,404.46 L144.44,404.10 L145.20,403.73 L145.96,403.36 L146.71,402.98 L147.46,402.60 L148.21,402.21 L148.96,401.82 L149.70,401.42 L150.44,401.01 L151.18,400.61 L151.91,400.19 L152.64,399.77 L153.36,399.35 L154.09,398.92 L154.80,398.48 L155.52,398.04 L156.23,397.59 L156.93,397.14 L157.63,396.68 L158.33,396.22 L159.03,395.75 L159.72,395.28 L160.40,394.80 L161.08,394.31 L161.76,393.82 L162.43,393.32 L163.09,392.82 L163.76,392.31 L164.41,391.79 L165.07,391.27 L165.71,390.75 L166.36,390.21 L166.99,389.67 L167.63,389.13 L168.25,388.58 L168.87,388.02 L169.49,387.46 L170.10,386.89 L170.70,386.31 L171.30,385.73 L171.90,385.15 L172.48,384.56 L173.06,383.96 L173.64,383.36 L174.21,382.76 L174.78,382.15 L175.34,381.53 L175.89,380.91 L176.44,380.29 L176.99,379.66 L177.53,379.03 L178.07,378.39 L178.60,377.75 L179.12,377.10 L179.64,376.45 L180.16,375.80 L180.67,375.14 L181.18,374.47 L181.68,373.81 L182.18,373.14 L182.68,372.47 L183.17,371.79 L183.65,371.11 L184.13,370.43 L184.61,369.74 L185.08,369.05 L185.55,368.35 L186.02,367.66 L186.48,366.96 L186.94,366.26 L187.39,365.55 L187.85,364.84 L188.29,364.13 L188.74,363.42 L189.18,362.70 L189.62,361.99 L190.05,361.26 L190.48,360.54 L190.91,359.82 L191.33,359.09 L191.75,358.36 L192.17,357.63 L192.59,356.89 L193.00,356.16 L193.41,355.42 L193.82,354.68 L194.22,353.94 L194.62,353.20 L195.02,352.46 L195.42,351.71 L195.81,350.97 L196.21,350.22 L196.59,349.47 L196.98,348.72 L197.37,347.97 L197.75,347.22 L198.13,346.47 L198.51,345.71 L198.89,344.96 L199.26,344.21 L199.64,343.45 L200.01,342.69 L200.38,341.94 L200.75,341.18 L201.12,340.43 L201.48,339.67 L201.84,338.91 L202.21,338.15 L202.57,337.40 L202.93,336.64 L203.29,335.88 L203.65,335.13 L204.00,334.37 L204.36,333.62 L204.71,332.86 L205.07,332.11 L205.42,331.35 L205.77,330.60 L206.12,329.85 L206.47,329.09 L206.82,328.34 L207.17,327.59 L207.52,326.84 L207.87,326.10 L208.22,325.35 L208.57,324.61 L208.91,323.86 L209.26,323.12 L209.61,322.38 L209.95,321.64 L210.30,320.90 L210.65,320.17 L210.99,319.44 L211.34,318.70 L211.69,317.97 L212.04,317.25 L212.38,316.52 L212.73,315.80 L213.08,315.08 L213.43,314.37 L213.78,313.66 L214.13,312.95 L214.48,312.25 L214.83,311.55 L215.19,310.86 L215.55,310.18 L215.92,309.50 L216.29,308.82 L216.66,308.16 L217.05,307.49 L217.44,306.83 L217.83,306.18 L218.23,305.54 L218.64,304.90 L219.06,304.26 L219.49,303.63 L219.93,303.01 L220.38,302.39 L220.84,301.78 L221.32,301.17 L221.80,300.57 L222.30,299.98 L222.81,299.39 L223.34,298.80 L223.88,298.23 L224.43,297.67 L224.98,297.13 L225.53,296.62 L226.08,296.15 L226.62,295.73 L227.15,295.35 L227.67,295.03 L228.16,294.76 L228.63,294.55 L229.06,294.40 L229.46,294.30 L229.83,294.24 L230.18,294.24 L230.55,294.27 L230.98,294.36 L231.46,294.51 L231.98,294.71 L232.53,294.97 L233.09,295.28 L233.66,295.62 L234.21,295.99 L234.74,296.37 L235.24,296.77 L235.73,297.19 L236.20,297.63 L236.65,298.08 L237.09,298.56 L237.50,299.05 L237.91,299.56 L238.29,300.09 L238.67,300.64 L239.03,301.21 L239.37,301.79 L239.71,302.39 L240.03,303.01 L240.34,303.64 L240.63,304.29 L240.92,304.96 L241.19,305.64 L241.46,306.34 L241.71,307.05 L241.95,307.77 L242.19,308.51 L242.41,309.26 L242.63,310.01 L242.83,310.78 L243.04,311.56 L243.23,312.35 L243.42,313.15 L243.60,313.95 L243.78,314.76 L243.95,315.57 L244.12,316.40 L244.28,317.22 L244.44,318.05 L244.60,318.89 L244.76,319.72 L244.92,320.56 L245.08,321.40 L245.24,322.24 L245.40,323.08 L245.56,323.91 L245.72,324.75 L245.88,325.58 L246.04,326.40 L246.20,327.23 L246.36,328.06 L246.52,328.88 L246.68,329.70 L246.84,330.52 L246.99,331.34 L247.15,332.16 L247.31,332.97 L247.47,333.79 L247.63,334.60 L247.79,335.41 L247.95,336.22 L248.11,337.03 L248.27,337.84 L248.43,338.64 L248.59,339.45 L248.75,340.25 L248.91,341.05 L249.07,341.85 L249.23,342.66 L249.39,343.46 L249.55,344.25 L249.71,345.05 L249.87,345.85 L250.03,346.65 L250.19,347.44 L250.35,348.24 L250.51,349.03 L250.67,349.83 L250.83,350.62 L250.99,351.41 L251.15,352.20 L251.31,353.00 L251.47,353.79 L251.63,354.58 L251.79,355.37 L251.95,356.16 L252.11,356.95 L252.27,357.74 L252.43,358.53 L252.59,359.32 L252.75,360.12 L252.91,360.91 L253.07,361.70 L253.23,362.49 L253.39,363.28 L253.55,364.07 L253.71,364.86 L253.87,365.65 L254.04,366.45 L254.20,367.24 L254.36,368.03 L254.52,368.83 L254.68,369.62 L254.84,370.41 L255.00,371.21 L255.16,372.01 L255.33,372.80 L255.49,373.60 L255.65,374.40 L255.81,375.20 L255.97,376.00 L256.13,376.80 L256.30,377.60 L256.46,378.40 L256.62,379.21 L256.78,380.01 L256.94,380.82 L257.11,381.63 L257.27,382.44 L257.43,383.25 L257.59,384.06 L257.76,384.87 L257.92,385.69 L258.08,386.50 L258.24,387.32 L258.41,388.14 L258.57,388.96 L258.73,389.78 L258.90,390.61 L259.06,391.43 L259.22,392.26 L259.39,393.09 L259.55,393.92 L259.72,394.76 L259.88,395.59 L260.04,396.43 L260.21,397.27" fill="none" stroke="#000000" stroke-width="6.8" stroke-linecap="round" stroke-linejoin="round"/>
<path d="M78.23,466.91 L79.00,466.98 L79.78,467.06 L80.57,467.13 L81.36,467.21 L82.15,467.29 L82.94,467.38 L83.73,467.46 L84.53,467.55 L85.32,467.64 L86.12,467.74 L86.92,467.83 L87.73,467.93 L88.53,468.03 L89.34,468.14 L90.15,468.25 L90.96,468.35 L91.77,468.47 L92.58,468.58 L93.39,468.70 L94.21,468.82 L95.02,468.95 L95.84,469.07 L96.66,469.20 L97.48,469.34 L98.30,469.47 L99.12,469.61 L99.94,469.75 L100.76,469.90 L101.59,470.05 L102.41,470.20 L103.23,470.35 L104.06,470.51 L104.88,470.67 L105.71,470.84 L106.53,471.01 L107.36,471.18 L108.19,471.35 L109.01,471.53 L109.84,471.71 L110.66,471.90 L111.49,472.09 L112.32,472.28 L113.14,472.48 L113.97,472.68 L114.79,472.88 L115.62,473.09 L116.44,473.30 L117.26,473.51 L118.08,473.73 L118.91,473.96 L119.73,474.18 L120.55,474.41 L121.37,474.65 L122.19,474.88 L123.00,475.13 L123.82,475.37 L124.63,475.62 L125.45,475.88 L126.26,476.14 L127.07,476.40 L127.88,476.67 L128.69,476.94 L129.50,477.21 L130.30,477.49 L131.10,477.78 L131.91,478.06 L132.71,478.36 L133.50,478.65 L134.30,478.96 L135.09,479.26 L135.88,479.57 L136.67,479.89 L137.46,480.21 L138.25,480.53 L139.03,480.86 L139.81,481.20 L140.59,481.53 L141.36,481.88 L142.14,482.23 L142.90,482.58 L143.67,482.94 L144.44,483.30 L145.20,483.67 L145.96,484.04 L146.71,484.42 L147.46,484.80 L148.21,485.19 L148.96,485.58 L149.70,485.98 L150.44,486.39 L151.18,486.79 L151.91,487.21 L152.64,487.63 L153.36,488.05 L154.09,488.48 L154.80,488.92 L155.52,489.36 L156.23,489.81 L156.93,490.26 L157.63,490.72 L158.33,491.18 L159.03,491.65 L159.72,492.12 L160.40,492.60 L161.08,493.09 L161.76,493.58 L162.43,494.08 L163.09,494.58 L163.76,495.09 L164.41,495.61 L165.07,496.13 L165.71,496.65 L166.36,497.19 L166.99,497.73 L167.63,498.27 L168.25,498.82 L168.87,499.38 L169.49,499.94 L170.10,500.51 L170.70,501.09 L171.30,501.67 L171.90,502.25 L172.48,502.84 L173.06,503.44 L173.64,504.04 L174.21,504.64 L174.78,505.25 L175.34,505.87 L175.89,506.49 L176.44,507.11 L176.99,507.74 L177.53,508.37 L178.07,509.01 L178.60,509.65 L179.12,510.30 L179.64,510.95 L180.16,511.60 L180.67,512.26 L181.18,512.93 L181.68,513.59 L182.18,514.26 L182.68,514.93 L183.17,515.61 L183.65,516.29 L184.13,516.97 L184.61,517.66 L185.08,518.35 L185.55,519.05 L186.02,519.74 L186.48,520.44 L186.94,521.14 L187.39,521.85 L187.85,522.56 L188.29,523.27 L188.74,523.98 L189.18,524.70 L189.62,525.41 L190.05,526.14 L190.48,526.86 L190.91,527.58 L191.33,528.31 L191.75,529.04 L192.17,529.77 L192.59,530.51 L193.00,531.24 L193.41,531.98 L193.82,532.72 L194.22,533.46 L194.62,534.20 L195.02,534.94 L195.42,535.69 L195.81,536.43 L196.21,537.18 L196.59,537.93 L196.98,538.68 L197.37,539.43 L197.75,540.18 L198.13,540.93 L198.51,541.69 L198.89,542.44 L199.26,543.19 L199.64,543.95 L200.01,544.71 L200.38,545.46 L200.75,546.22 L201.12,546.97 L201.48,547.73 L201.84,548.49 L202.21,549.25 L202.57,550.00 L202.93,550.76 L203.29,551.52 L203.65,552.27 L204.00,553.03 L204.36,553.78 L204.71,554.54 L205.07,555.29 L205.42,556.05 L205.77,556.80 L206.12,557.55 L206.47,558.31 L206.82,559.06 L207.17,559.81 L207.52,560.56 L207.87,561.30 L208.22,562.05 L208.57,562.79 L208.91,563.54 L209.26,564.28 L209.61,565.02 L209.95,565.76 L210.30,566.50 L210.65,567.23 L210.99,567.96 L211.34,568.70 L211.69,569.43 L212.04,570.15 L212.38,570.88 L212.73,571.60 L213.08,572.32 L213.43,573.03 L213.78,573.74 L214.13,574.45 L214.48,575.15 L214.83,575.85 L215.19,576.54 L215.55,577.22 L215.92,577.90 L216.29,578.58 L216.66,579.24 L217.05,579.91 L217.44,580.57 L217.83,581.22 L218.23,581.86 L218.64,582.50 L219.06,583.14 L219.49,583.77 L219.93,584.39 L220.38,585.01 L220.84,585.62 L221.32,586.23 L221.80,586.83 L222.30,587.42 L222.81,588.01 L223.34,588.60 L223.88,589.17 L224.43,589.73 L224.98,590.27 L225.53,590.78 L226.08,591.25 L226.62,591.67 L227.15,592.05 L227.67,592.37 L228.16,592.64 L228.63,592.85 L229.06,593.00 L229.46,593.10 L229.83,593.16 L230.18,593.16 L230.55,593.13 L230.98,593.04 L231.46,592.89 L231.98,592.69 L232.53,592.43 L233.09,592.12 L233.66,591.78 L234.21,591.41 L234.74,591.03 L235.24,590.63 L235.73,590.21 L236.20,589.77 L236.65,589.32 L237.09,588.84 L237.50,588.35 L237.91,587.84 L238.29,587.31 L238.67,586.76 L239.03,586.19 L239.37,585.61 L239.71,585.01 L240.03,584.39 L240.34,583.76 L240.63,583.11 L240.92,582.44 L241.19,581.76 L241.46,581.06 L241.71,580.35 L241.95,579.63 L242.19,578.89 L242.41,578.14 L242.63,577.39 L242.83,576.62 L243.04,575.84 L243.23,575.05 L243.42,574.25 L243.60,573.45 L243.78,572.64 L243.95,571.83 L244.12,571.00 L244.28,570.18 L244.44,569.35 L244.60,568.51 L244.76,567.68 L244.92,566.84 L245.08,566.00 L245.24,565.16 L245.40,564.32 L245.56,563.49 L245.72,562.65 L245.88,561.82 L246.04,561.00 L246.20,560.17 L246.36,559.34 L246.52,558.52 L246.68,557.70 L246.84,556.88 L246.99,556.06 L247.15,555.24 L247.31,554.43 L247.47,553.61 L247.63,552.80 L247.79,551.99 L247.95,551.18 L248.11,550.37 L248.27,549.56 L248.43,548.76 L248.59,547.95 L248.75,547.15 L248.91,546.35 L249.07,545.55 L249.23,544.74 L249.39,543.94 L249.55,543.15 L249.71,542.35 L249.87,541.55 L250.03,540.75 L250.19,539.96 L250.35,539.16 L250.51,538.37 L250.67,537.57 L250.83,536.78 L250.99,535.99 L251.15,535.20 L251.31,534.40 L251.47,533.61 L251.63,532.82 L251.79,532.03 L251.95,531.24 L252.11,530.45 L252.27,529.66 L252.43,528.87 L252.59,528.08 L252.75,527.28 L252.91,526.49 L253.07,525.70 L253.23,524.91 L253.39,524.12 L253.55,523.33 L253.71,522.54 L253.87,521.75 L254.04,520.95 L254.20,520.16 L254.36,519.37 L254.52,518.57 L254.68,517.78 L254.84,516.99 L255.00,516.19 L255.16,515.39 L255.33,514.60 L255.49,513.80 L255.65,513.00 L255.81,512.20 L255.97,511.40 L256.13,510.60 L256.30,509.80 L256.46,509.00 L256.62,508.19 L256.78,507.39 L256.94,506.58 L257.11,505.77 L257.27,504.96 L257.43,504.15 L257.59,503.34 L257.76,502.53 L257.92,501.71 L258.08,500.90 L258.24,500.08 L258.41,499.26 L258.57,498.44 L258.73,497.62 L258.90,496.79 L259.06,495.97 L259.22,495.14 L259.39,494.31 L259.55,493.48 L259.72,492.64 L259.88,491.81 L260.04,490.97 L260.21,490.13" fill="none" stroke="#000000" stroke-width="6.8" stroke-linecap="round" stroke-linejoin="round"/>
<path d="M262.35,402.61 L262.87,401.90 L263.41,401.25 L263.96,400.66 L264.53,400.12 L265.11,399.63 L265.70,399.20 L266.30,398.82 L266.91,398.50 L267.52,398.22 L268.14,398.00 L268.76,397.82 L269.38,397.70 L270.01,397.62 L270.63,397.59 L271.25,397.60 L271.86,397.66 L272.47,397.77 L273.07,397.92 L273.66,398.11 L274.24,398.35 L274.81,398.62 L275.36,398.94 L275.90,399.29 L276.43,399.68 L276.95,400.09 L277.47,400.53 L277.98,401.00 L278.48,401.48 L278.98,401.97 L279.47,402.48 L279.97,403.00 L280.46,403.51 L280.96,404.03 L281.46,404.54 L281.97,405.05 L282.48,405.54 L283.00,406.02 L283.53,406.48 L284.08,406.92 L284.63,407.33 L285.19,407.72 L285.77,408.07 L286.36,408.40 L286.96,408.71 L287.57,409.01 L288.19,409.28 L288.81,409.55 L289.43,409.81 L290.06,410.06 L290.69,410.31 L291.32,410.56 L291.95,410.82 L292.58,411.08 L293.20,411.35 L293.82,411.62 L294.45,411.89 L295.07,412.16 L295.70,412.43 L296.33,412.70 L296.96,412.96 L297.59,413.22 L298.22,413.48 L298.86,413.73 L299.49,413.98 L300.13,414.23 L300.77,414.47 L301.41,414.71 L302.05,414.95 L302.70,415.18 L303.34,415.41 L303.99,415.64 L304.64,415.87 L305.28,416.09 L305.93,416.31 L306.59,416.52 L307.24,416.74 L307.89,416.95 L308.55,417.16 L309.20,417.36 L309.86,417.57 L310.52,417.77 L311.17,417.96 L311.83,418.16 L312.49,418.35 L313.16,418.54 L313.82,418.73 L314.48,418.92 L315.14,419.10 L315.81,419.28 L316.47,419.46 L317.14,419.64 L317.80,419.82 L318.47,419.99 L319.13,420.16 L319.80,420.33 L320.47,420.50 L321.14,420.66 L321.81,420.82 L322.47,420.98 L323.14,421.14 L323.81,421.30 L324.48,421.46 L325.15,421.61 L325.83,421.76 L326.50,421.91 L327.17,422.06 L327.84,422.20 L328.51,422.35 L329.19,422.49 L329.86,422.63 L330.53,422.77 L331.21,422.91 L331.88,423.04 L332.56,423.18 L333.23,423.31 L333.91,423.44 L334.59,423.57 L335.26,423.70 L335.94,423.82 L336.62,423.95 L337.29,424.07 L337.97,424.19 L338.65,424.31 L339.33,424.43 L340.01,424.55 L340.69,424.66 L341.36,424.77 L342.04,424.89 L342.72,425.00 L343.40,425.11 L344.08,425.22 L344.76,425.32 L345.45,425.43 L346.13,425.53 L346.81,425.64 L347.49,425.74 L348.17,425.84 L348.85,425.94 L349.54,426.04 L350.22,426.14 L350.90,426.23 L351.59,426.33 L352.27,426.42 L352.95,426.51 L353.64,426.61 L354.32,426.70 L355.00,426.79 L355.69,426.87 L356.37,426.96 L357.06,427.05 L357.74,427.13 L358.43,427.22 L359.11,427.30 L359.80,427.39 L360.48,427.47 L361.17,427.55 L361.85,427.63 L362.54,427.71 L363.22,427.79 L363.91,427.87 L364.60,427.94 L365.28,428.02 L365.97,428.09 L366.66,428.17 L367.34,428.24 L368.03,428.32 L368.72,428.39 L369.40,428.46 L370.09,428.53 L370.78,428.61 L371.46,428.68 L372.15,428.75 L372.84,428.82 L373.52,428.88 L374.21,428.95 L374.90,429.02 L375.58,429.09 L376.27,429.16 L376.96,429.22 L377.65,429.29 L378.33,429.35 L379.02,429.42 L379.71,429.49 L380.39,429.55 L381.08,429.61 L381.77,429.68 L382.46,429.74 L383.14,429.81 L383.83,429.87 L384.52,429.93 L385.21,429.99 L385.89,430.05 L386.58,430.12 L387.27,430.18 L387.95,430.24 L388.64,430.30 L389.33,430.36 L390.02,430.42 L390.70,430.48 L391.39,430.54 L392.08,430.59 L392.77,430.65 L393.45,430.71 L394.14,430.77 L394.83,430.82 L395.51,430.88 L396.20,430.94 L396.89,430.99 L397.58,431.05 L398.26,431.10 L398.95,431.16 L399.64,431.21 L400.33,431.27 L401.01,431.32 L401.70,431.38 L402.39,431.43 L403.08,431.48 L403.76,431.53 L404.45,431.59 L405.14,431.64 L405.83,431.69 L406.51,431.74 L407.20,431.79 L407.89,431.84 L408.58,431.89 L409.26,431.94 L409.95,431.99 L410.64,432.04 L411.33,432.09 L412.01,432.14 L412.70,432.19 L413.39,432.24 L414.08,432.28 L414.76,432.33 L415.45,432.38 L416.14,432.43 L416.83,432.47 L417.51,432.52 L418.20,432.57 L418.89,432.61 L419.58,432.66 L420.26,432.70 L420.95,432.75 L421.64,432.79 L422.33,432.84 L423.02,432.88 L423.70,432.92 L424.39,432.97 L425.08,433.01 L425.77,433.05 L426.45,433.10 L427.14,433.14 L427.83,433.18 L428.52,433.22 L429.21,433.26 L429.89,433.30 L430.58,433.35 L431.27,433.39 L431.96,433.43 L432.64,433.47 L433.33,433.51 L434.02,433.55 L434.71,433.59 L435.40,433.62 L436.08,433.66 L436.77,433.70 L437.46,433.74 L438.15,433.78 L438.84,433.82 L439.52,433.85 L440.21,433.89 L440.90,433.93 L441.59,433.96 L442.28,434.00 L442.96,434.04 L443.65,434.07 L444.34,434.11 L445.03,434.15 L445.72,434.18 L446.40,434.22 L447.09,434.25 L447.78,434.29 L448.47,434.32 L449.16,434.35 L449.84,434.39 L450.53,434.42 L451.22,434.46 L451.91,434.49 L452.60,434.52 L453.29,434.56 L453.97,434.59 L454.66,434.62 L455.35,434.65 L456.04,434.68 L456.73,434.72 L457.42,434.75 L458.10,434.78 L458.79,434.81 L459.48,434.84 L460.17,434.87 L460.86,434.90 L461.55,434.93 L462.23,434.96 L462.92,434.99 L463.61,435.02 L464.30,435.05 L464.99,435.08 L465.68,435.11 L466.37,435.14 L467.05,435.17 L467.74,435.20 L468.43,435.23 L469.12,435.26 L469.81,435.28 L470.50,435.31 L471.19,435.34 L471.87,435.37 L472.56,435.40 L473.25,435.42 L473.94,435.45 L474.63,435.48 L475.32,435.50 L476.01,435.53 L476.69,435.56 L477.38,435.58 L478.07,435.61 L478.76,435.64 L479.45,435.66 L480.14,435.69 L480.83,435.71 L481.52,435.74 L482.21,435.76 L482.89,435.79 L483.58,435.81 L484.27,435.84 L484.96,435.86 L485.65,435.89 L486.34,435.91 L487.03,435.94 L487.72,435.96 L488.41,435.98 L489.10,436.01 L489.78,436.03 L490.47,436.05 L491.16,436.08 L491.85,436.10 L492.54,436.12 L493.23,436.15 L493.92,436.17 L494.61,436.19 L495.30,436.22 L495.99,436.24 L496.68,436.26 L497.37,436.28 L498.06,436.30 L498.74,436.33 L499.43,436.35 L500.12,436.37 L500.81,436.39 L501.50,436.41 L502.19,436.44 L502.88,436.46 L503.57,436.48 L504.26,436.50 L504.95,436.52 L505.64,436.54 L506.33,436.56 L507.02,436.58 L507.71,436.60 L508.40,436.62 L509.09,436.64 L509.78,436.67 L510.47,436.69 L511.16,436.71 L511.85,436.73 L512.54,436.75 L513.23,436.77 L513.92,436.79 L514.61,436.81 L515.30,436.83 L515.99,436.85 L516.68,436.87 L517.36,436.88 L518.05,436.90 L518.74,436.92 L519.43,436.94 L520.12,436.96 L520.81,436.98 L521.50,437.00 L522.19,437.02 L522.88,437.04 L523.58,437.06 L524.27,437.08 L524.96,437.10 L525.65,437.11 L526.34,437.13 L527.03,437.15 L527.72,437.17 L528.41,437.19" fill="none" stroke="#14B2E2" stroke-width="7.6" stroke-linecap="round" stroke-linejoin="round"/>
<path d="M262.35,484.79 L262.87,485.50 L263.41,486.15 L263.96,486.74 L264.53,487.28 L265.11,487.77 L265.70,488.20 L266.30,488.58 L266.91,488.90 L267.52,489.18 L268.14,489.40 L268.76,489.58 L269.38,489.70 L270.01,489.78 L270.63,489.81 L271.25,489.80 L271.86,489.74 L272.47,489.63 L273.07,489.48 L273.66,489.29 L274.24,489.05 L274.81,488.78 L275.36,488.46 L275.90,488.11 L276.43,487.72 L276.95,487.31 L277.47,486.87 L277.98,486.40 L278.48,485.92 L278.98,485.43 L279.47,484.92 L279.97,484.40 L280.46,483.89 L280.96,483.37 L281.46,482.86 L281.97,482.35 L282.48,481.86 L283.00,481.38 L283.53,480.92 L284.08,480.48 L284.63,480.07 L285.19,479.68 L285.77,479.33 L286.36,479.00 L286.96,478.69 L287.57,478.39 L288.19,478.12 L288.81,477.85 L289.43,477.59 L290.06,477.34 L290.69,477.09 L291.32,476.84 L291.95,476.58 L292.58,476.32 L293.20,476.05 L293.82,475.78 L294.45,475.51 L295.07,475.24 L295.70,474.97 L296.33,474.70 L296.96,474.44 L297.59,474.18 L298.22,473.92 L298.86,473.67 L299.49,473.42 L300.13,473.17 L300.77,472.93 L301.41,472.69 L302.05,472.45 L302.70,472.22 L303.34,471.99 L303.99,471.76 L304.64,471.53 L305.28,471.31 L305.93,471.09 L306.59,470.88 L307.24,470.66 L307.89,470.45 L308.55,470.24 L309.20,470.04 L309.86,469.83 L310.52,469.63 L311.17,469.44 L311.83,469.24 L312.49,469.05 L313.16,468.86 L313.82,468.67 L314.48,468.48 L315.14,468.30 L315.81,468.12 L316.47,467.94 L317.14,467.76 L317.80,467.58 L318.47,467.41 L319.13,467.24 L319.80,467.07 L320.47,466.90 L321.14,466.74 L321.81,466.58 L322.47,466.42 L323.14,466.26 L323.81,466.10 L324.48,465.94 L325.15,465.79 L325.83,465.64 L326.50,465.49 L327.17,465.34 L327.84,465.20 L328.51,465.05 L329.19,464.91 L329.86,464.77 L330.53,464.63 L331.21,464.49 L331.88,464.36 L332.56,464.22 L333.23,464.09 L333.91,463.96 L334.59,463.83 L335.26,463.70 L335.94,463.58 L336.62,463.45 L337.29,463.33 L337.97,463.21 L338.65,463.09 L339.33,462.97 L340.01,462.85 L340.69,462.74 L341.36,462.63 L342.04,462.51 L342.72,462.40 L343.40,462.29 L344.08,462.18 L344.76,462.08 L345.45,461.97 L346.13,461.87 L346.81,461.76 L347.49,461.66 L348.17,461.56 L348.85,461.46 L349.54,461.36 L350.22,461.26 L350.90,461.17 L351.59,461.07 L352.27,460.98 L352.95,460.89 L353.64,460.79 L354.32,460.70 L355.00,460.61 L355.69,460.53 L356.37,460.44 L357.06,460.35 L357.74,460.27 L358.43,460.18 L359.11,460.10 L359.80,460.01 L360.48,459.93 L361.17,459.85 L361.85,459.77 L362.54,459.69 L363.22,459.61 L363.91,459.53 L364.60,459.46 L365.28,459.38 L365.97,459.31 L366.66,459.23 L367.34,459.16 L368.03,459.08 L368.72,459.01 L369.40,458.94 L370.09,458.87 L370.78,458.79 L371.46,458.72 L372.15,458.65 L372.84,458.58 L373.52,458.52 L374.21,458.45 L374.90,458.38 L375.58,458.31 L376.27,458.24 L376.96,458.18 L377.65,458.11 L378.33,458.05 L379.02,457.98 L379.71,457.91 L380.39,457.85 L381.08,457.79 L381.77,457.72 L382.46,457.66 L383.14,457.59 L383.83,457.53 L384.52,457.47 L385.21,457.41 L385.89,457.35 L386.58,457.28 L387.27,457.22 L387.95,457.16 L388.64,457.10 L389.33,457.04 L390.02,456.98 L390.70,456.92 L391.39,456.86 L392.08,456.81 L392.77,456.75 L393.45,456.69 L394.14,456.63 L394.83,456.58 L395.51,456.52 L396.20,456.46 L396.89,456.41 L397.58,456.35 L398.26,456.30 L398.95,456.24 L399.64,456.19 L400.33,456.13 L401.01,456.08 L401.70,456.02 L402.39,455.97 L403.08,455.92 L403.76,455.87 L404.45,455.81 L405.14,455.76 L405.83,455.71 L406.51,455.66 L407.20,455.61 L407.89,455.56 L408.58,455.51 L409.26,455.46 L409.95,455.41 L410.64,455.36 L411.33,455.31 L412.01,455.26 L412.70,455.21 L413.39,455.16 L414.08,455.12 L414.76,455.07 L415.45,455.02 L416.14,454.97 L416.83,454.93 L417.51,454.88 L418.20,454.83 L418.89,454.79 L419.58,454.74 L420.26,454.70 L420.95,454.65 L421.64,454.61 L422.33,454.56 L423.02,454.52 L423.70,454.48 L424.39,454.43 L425.08,454.39 L425.77,454.35 L426.45,454.30 L427.14,454.26 L427.83,454.22 L428.52,454.18 L429.21,454.14 L429.89,454.10 L430.58,454.05 L431.27,454.01 L431.96,453.97 L432.64,453.93 L433.33,453.89 L434.02,453.85 L434.71,453.81 L435.40,453.78 L436.08,453.74 L436.77,453.70 L437.46,453.66 L438.15,453.62 L438.84,453.58 L439.52,453.55 L440.21,453.51 L440.90,453.47 L441.59,453.44 L442.28,453.40 L442.96,453.36 L443.65,453.33 L444.34,453.29 L445.03,453.25 L445.72,453.22 L446.40,453.18 L447.09,453.15 L447.78,453.11 L448.47,453.08 L449.16,453.05 L449.84,453.01 L450.53,452.98 L451.22,452.94 L451.91,452.91 L452.60,452.88 L453.29,452.84 L453.97,452.81 L454.66,452.78 L455.35,452.75 L456.04,452.72 L456.73,452.68 L457.42,452.65 L458.10,452.62 L458.79,452.59 L459.48,452.56 L460.17,452.53 L460.86,452.50 L461.55,452.47 L462.23,452.44 L462.92,452.41 L463.61,452.38 L464.30,452.35 L464.99,452.32 L465.68,452.29 L466.37,452.26 L467.05,452.23 L467.74,452.20 L468.43,452.17 L469.12,452.14 L469.81,452.12 L470.50,452.09 L471.19,452.06 L471.87,452.03 L472.56,452.00 L473.25,451.98 L473.94,451.95 L474.63,451.92 L475.32,451.90 L476.01,451.87 L476.69,451.84 L477.38,451.82 L478.07,451.79 L478.76,451.76 L479.45,451.74 L480.14,451.71 L480.83,451.69 L481.52,451.66 L482.21,451.64 L482.89,451.61 L483.58,451.59 L484.27,451.56 L484.96,451.54 L485.65,451.51 L486.34,451.49 L487.03,451.46 L487.72,451.44 L488.41,451.42 L489.10,451.39 L489.78,451.37 L490.47,451.35 L491.16,451.32 L491.85,451.30 L492.54,451.28 L493.23,451.25 L493.92,451.23 L494.61,451.21 L495.30,451.18 L495.99,451.16 L496.68,451.14 L497.37,451.12 L498.06,451.10 L498.74,451.07 L499.43,451.05 L500.12,451.03 L500.81,451.01 L501.50,450.99 L502.19,450.96 L502.88,450.94 L503.57,450.92 L504.26,450.90 L504.95,450.88 L505.64,450.86 L506.33,450.84 L507.02,450.82 L507.71,450.80 L508.40,450.78 L509.09,450.76 L509.78,450.73 L510.47,450.71 L511.16,450.69 L511.85,450.67 L512.54,450.65 L513.23,450.63 L513.92,450.61 L514.61,450.59 L515.30,450.57 L515.99,450.55 L516.68,450.53 L517.36,450.52 L518.05,450.50 L518.74,450.48 L519.43,450.46 L520.12,450.44 L520.81,450.42 L521.50,450.40 L522.19,450.38 L522.88,450.36 L523.58,450.34 L524.27,450.32 L524.96,450.30 L525.65,450.29 L526.34,450.27 L527.03,450.25 L527.72,450.23 L528.41,450.21" fill="none" stroke="#14B2E2" stroke-width="7.6" stroke-linecap="round" stroke-linejoin="round"/>
<text x="73.39999999999999" y="644.8" font-size="30" text-anchor="start" fill="#262626">21</text>
<text x="183.10000000000002" y="644.8" font-size="30" text-anchor="start" fill="#262626">22</text>
<text x="297.0" y="644.8" font-size="30" text-anchor="start" fill="#262626">23</text>
<text x="410.6" y="644.8" font-size="30" text-anchor="start" fill="#262626">24</text>
<text x="508.2" y="644.8" font-size="30" text-anchor="start" fill="#262626">25</text>
<text x="74.0" y="314.7" font-size="30" text-anchor="end" fill="#262626">6</text>
<text x="73.7" y="359.5" font-size="30" text-anchor="end" fill="#262626">4</text>
<text x="73.8" y="406.7" font-size="30" text-anchor="end" fill="#262626">2</text>
<text x="72.1" y="455.3" font-size="30" text-anchor="end" fill="#262626">0</text>
<text x="72.9" y="501.7" font-size="30" text-anchor="end" fill="#262626">−2</text>
<text x="73.3" y="546.9" font-size="30" text-anchor="end" fill="#262626">−4</text>
<text x="73.0" y="592.6" font-size="30" text-anchor="end" fill="#262626">−6</text>
<text x="271.4" y="682.6" font-size="27" text-anchor="start" textLength="80.5" lengthAdjust="spacingAndGlyphs">Time /s</text>
<text transform="translate(29.1,531.8) rotate(-90)" x="0" y="0" font-size="27" textLength="190.5" lengthAdjust="spacingAndGlyphs">Amplitude /mm</text>
<text x="64.1" y="261.1" font-size="47" font-weight="normal" fill="#262626">×</text>
<text x="90.5" y="255.7" font-size="30" text-anchor="start" fill="#262626">10</text>
<text x="110.55" y="238.65" font-size="33" text-anchor="start" fill="#262626">−</text>
<text x="128" y="234.2" font-size="29" font-style="italic" fill="#262626">5</text>
<text x="193.2" y="39.6" font-size="21.3" text-anchor="middle">Cracked blade</text>
<text x="192.7" y="58.1" font-size="21.3" text-anchor="middle">vibration</text>
<text x="204.6" y="82.9" font-size="21.3" text-anchor="middle">Cracked blade</text>
<text x="204.6" y="101.5" font-size="21.3" text-anchor="middle">vibration</text>
<text x="204.5" y="120.0" font-size="21.3" text-anchor="middle">envelope(peak region)</text>
<text x="215.4" y="148.6" font-size="21.3" text-anchor="middle">Cracked blade</text>
<text x="215.2" y="167.6" font-size="21.3" text-anchor="middle">vibration</text>
<text x="215.5" y="185.8" font-size="21.3" text-anchor="middle">envelope(decay region)</text>
<text x="437.0" y="44.2" font-size="21.3" text-anchor="middle">Intact blade</text>
<text x="436.5" y="63.3" font-size="21.3" text-anchor="middle">vibration</text>
<text x="444.1" y="92.8" font-size="21.3" text-anchor="middle">Intact blade</text>
<text x="444.1" y="111.3" font-size="21.3" text-anchor="middle">vibration envelope</text>
<text x="443.8" y="130.0" font-size="21.3" text-anchor="middle">(peak region)</text>
<text x="444.1" y="150.3" font-size="21.3" text-anchor="middle">Intact blade</text>
<text x="443.9" y="169.2" font-size="21.3" text-anchor="middle">vibration envelope</text>
<text x="443.2" y="187.0" font-size="21.3" text-anchor="middle">(decay region)</text>
</g>
</svg>
</body></html>
